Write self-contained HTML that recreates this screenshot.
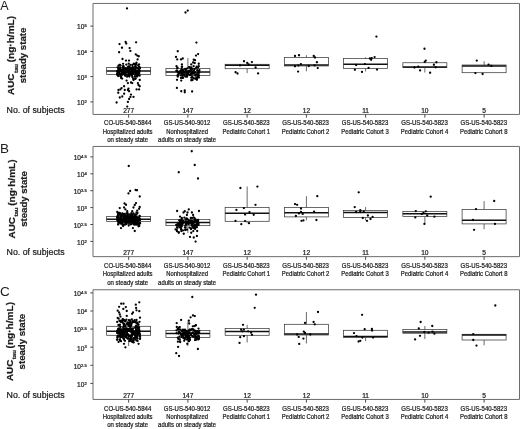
<!DOCTYPE html>
<html lang="en"><head><meta charset="utf-8"><title>Figure: AUCtau at steady state by cohort</title>
<style>html,body{margin:0;padding:0;background:#fff}body{width:520px;height:429px;overflow:hidden}svg{display:block;font-family:"Liberation Sans",sans-serif}.t{fill:#1c1c1c;stroke:#1c1c1c;stroke-width:.22}.ax{stroke:#6c6c6c;fill:none}.bx{stroke:#333;fill:none;stroke-width:.72}.md{stroke:#111;stroke-width:1.45;fill:none}.wh{stroke:#444;stroke-width:.8;fill:none}.p{fill:#000}</style></head><body>
<svg width="520" height="429" viewBox="0 0 520 429">
<rect width="520" height="429" fill="#fff"/>
<g>
<text fill="#1c1c1c" x="0.35" y="9.6" font-size="13.5" textLength="8.4" lengthAdjust="spacingAndGlyphs">A</text>
<text class="t" font-weight="bold" font-size="9.9" transform="translate(14.3 95) rotate(-90)">AUC<tspan font-size="6.1" dx="0.5" dy="3.4">tau</tspan></text>
<text class="t" font-weight="bold" font-size="9.9" transform="translate(14.3 62.3) rotate(-90)" textLength="46.4" lengthAdjust="spacingAndGlyphs">(ng·h/mL)</text>
<text class="t" font-weight="bold" font-size="9.9" text-anchor="middle" transform="translate(26.4 55.5) rotate(-90)" textLength="55.6" lengthAdjust="spacingAndGlyphs">steady state</text>
<text class="t" x="6.6" y="113" font-size="8.4" textLength="58" lengthAdjust="spacingAndGlyphs">No. of subjects</text>
<rect class="bx" x="106.65" y="67.55" width="44" height="6.95"/>
<path class="md" d="M106.65 70.95H150.65"/>
<rect class="bx" x="165.9" y="68.45" width="44" height="7"/>
<path class="md" d="M165.9 71.9H209.9"/>
<path class="wh" d="M187.9 58V68.45"/>
<rect class="bx" x="225.15" y="64.3" width="44" height="4.4"/>
<path class="md" d="M225.15 65.3H269.15"/>
<path class="wh" d="M247.15 68.7V73.1"/>
<rect class="bx" x="284.4" y="57.45" width="44" height="8.5"/>
<path class="md" d="M284.4 65.05H328.4"/>
<path class="wh" d="M306.4 55.2V57.45M306.4 65.95V71.3"/>
<rect class="bx" x="343.6" y="58.5" width="44" height="9.85"/>
<path class="md" d="M343.6 64.2H387.6"/>
<path class="wh" d="M365.6 57.2V58.5M365.6 68.35V71.5"/>
<rect class="bx" x="402.85" y="62.75" width="44" height="4.85"/>
<path class="md" d="M402.85 66.9H446.85"/>
<path class="wh" d="M424.85 61.2V62.75M424.85 67.6V72.5"/>
<rect class="bx" x="462.1" y="65" width="44" height="7.7"/>
<path class="md" d="M462.1 66H506.1"/>
<path class="wh" d="M484.1 61.2V65"/>
<g class="p">
<circle cx="127" cy="8.4" r="1.15"/>
<circle cx="119.5" cy="44.1" r="1.15"/>
<circle cx="125.6" cy="41.9" r="1.15"/>
<circle cx="126.25" cy="43.5" r="1.15"/>
<circle cx="136.1" cy="42.3" r="1.15"/>
<circle cx="122" cy="47.75" r="1.15"/>
<circle cx="129.6" cy="48.1" r="1.15"/>
<circle cx="130.4" cy="50.9" r="1.15"/>
<circle cx="119.1" cy="52.25" r="1.15"/>
<circle cx="135.75" cy="54.4" r="1.15"/>
<circle cx="137.25" cy="55.6" r="1.15"/>
<circle cx="138.75" cy="56.25" r="1.15"/>
<circle cx="137.6" cy="59.4" r="1.15"/>
<circle cx="122.5" cy="59" r="1.15"/>
<circle cx="126" cy="60.6" r="1.15"/>
<circle cx="129" cy="60.6" r="1.15"/>
<circle cx="126.6" cy="80.6" r="1.15"/>
<circle cx="127.9" cy="83.1" r="1.15"/>
<circle cx="131" cy="82.5" r="1.15"/>
<circle cx="132.25" cy="83.1" r="1.15"/>
<circle cx="133.5" cy="80" r="1.15"/>
<circle cx="139.75" cy="80" r="1.15"/>
<circle cx="137.9" cy="83.1" r="1.15"/>
<circle cx="138.5" cy="85" r="1.15"/>
<circle cx="139.75" cy="86.25" r="1.15"/>
<circle cx="124.1" cy="86.25" r="1.15"/>
<circle cx="121.6" cy="88.1" r="1.15"/>
<circle cx="128.5" cy="88.75" r="1.15"/>
<circle cx="120.4" cy="89.4" r="1.15"/>
<circle cx="118.5" cy="90" r="1.15"/>
<circle cx="124.75" cy="90" r="1.15"/>
<circle cx="127.9" cy="90" r="1.15"/>
<circle cx="129.1" cy="91.25" r="1.15"/>
<circle cx="136.6" cy="89.4" r="1.15"/>
<circle cx="139.1" cy="89.4" r="1.15"/>
<circle cx="118.25" cy="92.75" r="1.15"/>
<circle cx="124.1" cy="93.75" r="1.15"/>
<circle cx="131" cy="94.6" r="1.15"/>
<circle cx="122.25" cy="96.5" r="1.15"/>
<circle cx="119.75" cy="97.5" r="1.15"/>
<circle cx="130.4" cy="96.9" r="1.15"/>
<circle cx="133.5" cy="96.9" r="1.15"/>
<circle cx="129.1" cy="99" r="1.15"/>
<circle cx="116.6" cy="102.5" r="1.15"/>
<circle cx="127.9" cy="101.9" r="1.15"/>
<circle cx="127.25" cy="106.6" r="1.15"/>
<circle cx="132.1" cy="70.2" r="1.15"/>
<circle cx="118.8" cy="73.1" r="1.15"/>
<circle cx="118.5" cy="67.7" r="1.15"/>
<circle cx="128.8" cy="70.4" r="1.15"/>
<circle cx="118.8" cy="75.1" r="1.15"/>
<circle cx="119.2" cy="72.1" r="1.15"/>
<circle cx="120" cy="64.9" r="1.15"/>
<circle cx="122.3" cy="74.4" r="1.15"/>
<circle cx="130.4" cy="64.8" r="1.15"/>
<circle cx="126.3" cy="64.6" r="1.15"/>
<circle cx="136.9" cy="72.4" r="1.15"/>
<circle cx="123.8" cy="71" r="1.15"/>
<circle cx="124.2" cy="72.4" r="1.15"/>
<circle cx="135.9" cy="72.7" r="1.15"/>
<circle cx="131.8" cy="73.3" r="1.15"/>
<circle cx="125.7" cy="75.7" r="1.15"/>
<circle cx="118.5" cy="69.9" r="1.15"/>
<circle cx="121.9" cy="70.8" r="1.15"/>
<circle cx="124.4" cy="69.5" r="1.15"/>
<circle cx="130.6" cy="67.6" r="1.15"/>
<circle cx="135.4" cy="68.1" r="1.15"/>
<circle cx="133.2" cy="72.1" r="1.15"/>
<circle cx="129.2" cy="71.4" r="1.15"/>
<circle cx="137.3" cy="76.2" r="1.15"/>
<circle cx="139.7" cy="70.8" r="1.15"/>
<circle cx="119.9" cy="68.1" r="1.15"/>
<circle cx="120.6" cy="65.6" r="1.15"/>
<circle cx="128.4" cy="74.3" r="1.15"/>
<circle cx="134.7" cy="76.7" r="1.15"/>
<circle cx="130.3" cy="72.6" r="1.15"/>
<circle cx="133.1" cy="73.5" r="1.15"/>
<circle cx="130.8" cy="68.9" r="1.15"/>
<circle cx="136.5" cy="67.5" r="1.15"/>
<circle cx="138.9" cy="69.2" r="1.15"/>
<circle cx="118.5" cy="65.7" r="1.15"/>
<circle cx="133.3" cy="72.1" r="1.15"/>
<circle cx="136.1" cy="64" r="1.15"/>
<circle cx="132.5" cy="70.4" r="1.15"/>
<circle cx="117.7" cy="74.9" r="1.15"/>
<circle cx="119.8" cy="69" r="1.15"/>
<circle cx="118.5" cy="71.7" r="1.15"/>
<circle cx="122.8" cy="71.4" r="1.15"/>
<circle cx="126.1" cy="69.2" r="1.15"/>
<circle cx="127.5" cy="72.3" r="1.15"/>
<circle cx="129.8" cy="70.1" r="1.15"/>
<circle cx="137" cy="76.4" r="1.15"/>
<circle cx="123.6" cy="66.5" r="1.15"/>
<circle cx="137.5" cy="68.1" r="1.15"/>
<circle cx="139.2" cy="73" r="1.15"/>
<circle cx="122.5" cy="72.6" r="1.15"/>
<circle cx="122.5" cy="73.1" r="1.15"/>
<circle cx="123.2" cy="66.2" r="1.15"/>
<circle cx="117.2" cy="71.7" r="1.15"/>
<circle cx="130.2" cy="68" r="1.15"/>
<circle cx="139.1" cy="73" r="1.15"/>
<circle cx="131.4" cy="69.5" r="1.15"/>
<circle cx="132.7" cy="66.9" r="1.15"/>
<circle cx="135.1" cy="78.9" r="1.15"/>
<circle cx="137.3" cy="73.9" r="1.15"/>
<circle cx="126.3" cy="72.3" r="1.15"/>
<circle cx="119.5" cy="67.6" r="1.15"/>
<circle cx="118.7" cy="70.3" r="1.15"/>
<circle cx="122" cy="70.2" r="1.15"/>
<circle cx="118.4" cy="73" r="1.15"/>
<circle cx="117.2" cy="74.2" r="1.15"/>
<circle cx="125.5" cy="72.2" r="1.15"/>
<circle cx="117.7" cy="72.6" r="1.15"/>
<circle cx="120.6" cy="74.9" r="1.15"/>
<circle cx="123" cy="67.5" r="1.15"/>
<circle cx="120" cy="69.1" r="1.15"/>
<circle cx="136.7" cy="74.2" r="1.15"/>
<circle cx="128.3" cy="75.5" r="1.15"/>
<circle cx="119.1" cy="71" r="1.15"/>
<circle cx="123.2" cy="74" r="1.15"/>
<circle cx="136.2" cy="73.3" r="1.15"/>
<circle cx="139" cy="71.6" r="1.15"/>
<circle cx="129.3" cy="71.9" r="1.15"/>
<circle cx="117.8" cy="74.1" r="1.15"/>
<circle cx="129.3" cy="75" r="1.15"/>
<circle cx="133.2" cy="78.7" r="1.15"/>
<circle cx="123.2" cy="70.2" r="1.15"/>
<circle cx="134.9" cy="69.7" r="1.15"/>
<circle cx="129.4" cy="72.9" r="1.15"/>
<circle cx="122.3" cy="71.8" r="1.15"/>
<circle cx="135.8" cy="67.9" r="1.15"/>
<circle cx="135.7" cy="78.6" r="1.15"/>
<circle cx="136" cy="70.5" r="1.15"/>
<circle cx="129.1" cy="71" r="1.15"/>
<circle cx="125.3" cy="68.5" r="1.15"/>
<circle cx="123.6" cy="72.1" r="1.15"/>
<circle cx="123.1" cy="71.4" r="1.15"/>
<circle cx="127.4" cy="67.8" r="1.15"/>
<circle cx="139.1" cy="66.8" r="1.15"/>
<circle cx="122.4" cy="69.4" r="1.15"/>
<circle cx="121.7" cy="73.2" r="1.15"/>
<circle cx="137.9" cy="72.7" r="1.15"/>
<circle cx="136.5" cy="76.3" r="1.15"/>
<circle cx="135.5" cy="65.7" r="1.15"/>
<circle cx="119.1" cy="71.9" r="1.15"/>
<circle cx="135.1" cy="66.8" r="1.15"/>
<circle cx="134.4" cy="64.1" r="1.15"/>
<circle cx="135.3" cy="68.8" r="1.15"/>
<circle cx="124.8" cy="71.5" r="1.15"/>
<circle cx="126.3" cy="74.4" r="1.15"/>
<circle cx="133.8" cy="63.7" r="1.15"/>
<circle cx="121.1" cy="76.5" r="1.15"/>
<circle cx="138" cy="72.7" r="1.15"/>
<circle cx="135.7" cy="72.8" r="1.15"/>
<circle cx="139.7" cy="75.5" r="1.15"/>
<circle cx="132.3" cy="76.9" r="1.15"/>
<circle cx="120.2" cy="68.4" r="1.15"/>
<circle cx="117.5" cy="75.1" r="1.15"/>
<circle cx="129.3" cy="76.6" r="1.15"/>
<circle cx="138.6" cy="70.2" r="1.15"/>
<circle cx="136.2" cy="64.2" r="1.15"/>
<circle cx="122" cy="74.3" r="1.15"/>
<circle cx="122.7" cy="71.2" r="1.15"/>
<circle cx="130.6" cy="74.4" r="1.15"/>
<circle cx="120.2" cy="71" r="1.15"/>
<circle cx="138.1" cy="75.2" r="1.15"/>
<circle cx="130.6" cy="68.6" r="1.15"/>
<circle cx="137.9" cy="74.5" r="1.15"/>
<circle cx="128.7" cy="63.7" r="1.15"/>
<circle cx="129.4" cy="75.3" r="1.15"/>
<circle cx="127.3" cy="70.5" r="1.15"/>
<circle cx="121.4" cy="71.1" r="1.15"/>
<circle cx="121.1" cy="78" r="1.15"/>
<circle cx="128" cy="71.4" r="1.15"/>
<circle cx="124.6" cy="70.4" r="1.15"/>
<circle cx="129.1" cy="66.4" r="1.15"/>
<circle cx="119.6" cy="64.9" r="1.15"/>
<circle cx="130" cy="68.9" r="1.15"/>
<circle cx="134.9" cy="71.2" r="1.15"/>
<circle cx="128.8" cy="74.3" r="1.15"/>
<circle cx="138.1" cy="65.3" r="1.15"/>
<circle cx="127.3" cy="68.8" r="1.15"/>
<circle cx="128.9" cy="67.8" r="1.15"/>
<circle cx="133.1" cy="68.3" r="1.15"/>
<circle cx="128.1" cy="66.7" r="1.15"/>
<circle cx="138.8" cy="72.6" r="1.15"/>
<circle cx="138.8" cy="68.8" r="1.15"/>
<circle cx="123.1" cy="63.8" r="1.15"/>
<circle cx="136.5" cy="62.7" r="1.15"/>
<circle cx="120.3" cy="67.9" r="1.15"/>
<circle cx="118.8" cy="74.2" r="1.15"/>
<circle cx="122.7" cy="74" r="1.15"/>
<circle cx="135.2" cy="76.3" r="1.15"/>
<circle cx="137.8" cy="73.7" r="1.15"/>
<circle cx="132.3" cy="74.6" r="1.15"/>
<circle cx="120.4" cy="76.2" r="1.15"/>
<circle cx="122.2" cy="78.6" r="1.15"/>
<circle cx="139.1" cy="64.5" r="1.15"/>
<circle cx="139.9" cy="67.7" r="1.15"/>
<circle cx="136.3" cy="73.8" r="1.15"/>
<circle cx="129" cy="73.3" r="1.15"/>
<circle cx="124.9" cy="74.6" r="1.15"/>
<circle cx="133.8" cy="72.3" r="1.15"/>
<circle cx="117.6" cy="74.3" r="1.15"/>
<circle cx="117.6" cy="67.3" r="1.15"/>
<circle cx="124.8" cy="69.8" r="1.15"/>
<circle cx="118.6" cy="68" r="1.15"/>
<circle cx="139.8" cy="68" r="1.15"/>
<circle cx="119.6" cy="73.6" r="1.15"/>
<circle cx="135.1" cy="71.1" r="1.15"/>
<circle cx="123.4" cy="72.3" r="1.15"/>
<circle cx="138.1" cy="73.9" r="1.15"/>
<circle cx="136" cy="74.1" r="1.15"/>
<circle cx="138.3" cy="71.1" r="1.15"/>
<circle cx="130.3" cy="73.4" r="1.15"/>
<circle cx="118.5" cy="70.7" r="1.15"/>
<circle cx="133" cy="69.6" r="1.15"/>
<circle cx="138.7" cy="69.9" r="1.15"/>
<circle cx="131.7" cy="71.9" r="1.15"/>
<circle cx="136.8" cy="71.7" r="1.15"/>
<circle cx="118.7" cy="69.7" r="1.15"/>
<circle cx="125" cy="73.9" r="1.15"/>
<circle cx="129.9" cy="68" r="1.15"/>
<circle cx="120.1" cy="73.9" r="1.15"/>
<circle cx="129.3" cy="69.9" r="1.15"/>
<circle cx="120.9" cy="71.3" r="1.15"/>
<circle cx="118.3" cy="73" r="1.15"/>
<circle cx="124.2" cy="72.2" r="1.15"/>
<circle cx="134.6" cy="74.3" r="1.15"/>
<circle cx="121.2" cy="70.1" r="1.15"/>
<circle cx="125.1" cy="75.5" r="1.15"/>
<circle cx="117.5" cy="74.1" r="1.15"/>
<circle cx="134" cy="71.5" r="1.15"/>
<circle cx="128.1" cy="68.9" r="1.15"/>
<circle cx="138.6" cy="70.4" r="1.15"/>
<circle cx="127.1" cy="76.7" r="1.15"/>
<circle cx="128.5" cy="75.6" r="1.15"/>
<circle cx="128.8" cy="73.1" r="1.15"/>
<circle cx="133" cy="67.9" r="1.15"/>
<circle cx="136.3" cy="74.7" r="1.15"/>
<circle cx="133.4" cy="70.8" r="1.15"/>
<circle cx="125.1" cy="68.7" r="1.15"/>
<circle cx="118.4" cy="68.3" r="1.15"/>
<circle cx="134.2" cy="72.2" r="1.15"/>
<circle cx="123" cy="72.3" r="1.15"/>
<circle cx="136.5" cy="72" r="1.15"/>
<circle cx="137.2" cy="72.6" r="1.15"/>
<circle cx="122.7" cy="69.7" r="1.15"/>
<circle cx="123.9" cy="68.5" r="1.15"/>
<circle cx="127.4" cy="69" r="1.15"/>
<circle cx="123.2" cy="71.8" r="1.15"/>
<circle cx="129.7" cy="68.8" r="1.15"/>
<circle cx="124.3" cy="71.5" r="1.15"/>
<circle cx="125.9" cy="71.1" r="1.15"/>
<circle cx="128.1" cy="71.3" r="1.15"/>
<circle cx="128.8" cy="68.7" r="1.15"/>
<circle cx="117.3" cy="71.2" r="1.15"/>
<circle cx="126.3" cy="71.1" r="1.15"/>
<circle cx="118.1" cy="72.8" r="1.15"/>
<circle cx="122.5" cy="74.4" r="1.15"/>
<circle cx="130.6" cy="71.7" r="1.15"/>
<circle cx="132.3" cy="65" r="1.15"/>
<circle cx="133.6" cy="70" r="1.15"/>
<circle cx="124.7" cy="73.9" r="1.15"/>
<circle cx="139.8" cy="68.6" r="1.15"/>
<circle cx="131.9" cy="74.8" r="1.15"/>
<circle cx="118.2" cy="76.1" r="1.15"/>
<circle cx="131.6" cy="75.3" r="1.15"/>
<circle cx="134" cy="64.3" r="1.15"/>
<circle cx="129.2" cy="72" r="1.15"/>
<circle cx="128.8" cy="69.3" r="1.15"/>
<circle cx="187.75" cy="10.6" r="1.15"/>
<circle cx="185.5" cy="12.5" r="1.15"/>
<circle cx="196.4" cy="42.6" r="1.15"/>
<circle cx="177.75" cy="51.25" r="1.15"/>
<circle cx="198.1" cy="54.1" r="1.15"/>
<circle cx="196" cy="55.6" r="1.15"/>
<circle cx="176" cy="56.9" r="1.15"/>
<circle cx="177.25" cy="59.4" r="1.15"/>
<circle cx="181" cy="59.4" r="1.15"/>
<circle cx="182.75" cy="58.5" r="1.15"/>
<circle cx="193.75" cy="59.75" r="1.15"/>
<circle cx="195" cy="60.25" r="1.15"/>
<circle cx="193.1" cy="62.5" r="1.15"/>
<circle cx="194.75" cy="63.1" r="1.15"/>
<circle cx="198.75" cy="63.75" r="1.15"/>
<circle cx="191.25" cy="64.4" r="1.15"/>
<circle cx="181.9" cy="64.4" r="1.15"/>
<circle cx="176.5" cy="66.25" r="1.15"/>
<circle cx="198.75" cy="66.25" r="1.15"/>
<circle cx="181.25" cy="80.6" r="1.15"/>
<circle cx="191.25" cy="80.25" r="1.15"/>
<circle cx="192.5" cy="80" r="1.15"/>
<circle cx="196.9" cy="79.75" r="1.15"/>
<circle cx="176.9" cy="87.9" r="1.15"/>
<circle cx="181.25" cy="91.25" r="1.15"/>
<circle cx="184.75" cy="90.4" r="1.15"/>
<circle cx="184.75" cy="92.25" r="1.15"/>
<circle cx="192.1" cy="91.5" r="1.15"/>
<circle cx="195.4" cy="75.7" r="1.15"/>
<circle cx="189.8" cy="67.3" r="1.15"/>
<circle cx="192.3" cy="76.6" r="1.15"/>
<circle cx="181.7" cy="69.4" r="1.15"/>
<circle cx="184.7" cy="74.4" r="1.15"/>
<circle cx="178.8" cy="73" r="1.15"/>
<circle cx="190.8" cy="74.8" r="1.15"/>
<circle cx="190.8" cy="68.9" r="1.15"/>
<circle cx="176.5" cy="70.9" r="1.15"/>
<circle cx="194.7" cy="69" r="1.15"/>
<circle cx="188.7" cy="72.6" r="1.15"/>
<circle cx="191.6" cy="68.6" r="1.15"/>
<circle cx="182.2" cy="77.7" r="1.15"/>
<circle cx="178.1" cy="74.8" r="1.15"/>
<circle cx="181.1" cy="72.1" r="1.15"/>
<circle cx="193.4" cy="78.1" r="1.15"/>
<circle cx="185.2" cy="76.5" r="1.15"/>
<circle cx="187.4" cy="72" r="1.15"/>
<circle cx="190.6" cy="70.3" r="1.15"/>
<circle cx="191.2" cy="67.3" r="1.15"/>
<circle cx="182.2" cy="74.3" r="1.15"/>
<circle cx="193.5" cy="73.5" r="1.15"/>
<circle cx="176.7" cy="71.1" r="1.15"/>
<circle cx="177.8" cy="76.7" r="1.15"/>
<circle cx="192.3" cy="72" r="1.15"/>
<circle cx="191.9" cy="77.6" r="1.15"/>
<circle cx="187.1" cy="71.6" r="1.15"/>
<circle cx="187.1" cy="76.6" r="1.15"/>
<circle cx="181" cy="77.9" r="1.15"/>
<circle cx="198.9" cy="77.5" r="1.15"/>
<circle cx="187" cy="73.2" r="1.15"/>
<circle cx="195.3" cy="72.4" r="1.15"/>
<circle cx="182.6" cy="76.2" r="1.15"/>
<circle cx="181.2" cy="71.9" r="1.15"/>
<circle cx="189.8" cy="74.8" r="1.15"/>
<circle cx="179.7" cy="71.8" r="1.15"/>
<circle cx="179.4" cy="71.3" r="1.15"/>
<circle cx="196.8" cy="74.3" r="1.15"/>
<circle cx="192.6" cy="68.9" r="1.15"/>
<circle cx="187.6" cy="73.4" r="1.15"/>
<circle cx="177" cy="79.8" r="1.15"/>
<circle cx="186.8" cy="76.6" r="1.15"/>
<circle cx="183.3" cy="72.7" r="1.15"/>
<circle cx="183.7" cy="74.6" r="1.15"/>
<circle cx="195.7" cy="75" r="1.15"/>
<circle cx="195.7" cy="78.3" r="1.15"/>
<circle cx="179.2" cy="72.7" r="1.15"/>
<circle cx="197.1" cy="77.4" r="1.15"/>
<circle cx="183.1" cy="70.2" r="1.15"/>
<circle cx="199.4" cy="70.2" r="1.15"/>
<circle cx="190" cy="75" r="1.15"/>
<circle cx="182.7" cy="70.3" r="1.15"/>
<circle cx="177.5" cy="75.4" r="1.15"/>
<circle cx="183" cy="77.8" r="1.15"/>
<circle cx="197.9" cy="76.4" r="1.15"/>
<circle cx="188.2" cy="72.6" r="1.15"/>
<circle cx="180.8" cy="75.3" r="1.15"/>
<circle cx="196.7" cy="66.7" r="1.15"/>
<circle cx="195.1" cy="78.7" r="1.15"/>
<circle cx="198" cy="67.5" r="1.15"/>
<circle cx="189" cy="67.1" r="1.15"/>
<circle cx="193.2" cy="72.4" r="1.15"/>
<circle cx="186.8" cy="71.5" r="1.15"/>
<circle cx="183" cy="72.7" r="1.15"/>
<circle cx="177.5" cy="67.7" r="1.15"/>
<circle cx="187.3" cy="74.2" r="1.15"/>
<circle cx="184.3" cy="71.8" r="1.15"/>
<circle cx="198.9" cy="71" r="1.15"/>
<circle cx="182.4" cy="77.9" r="1.15"/>
<circle cx="189.2" cy="71" r="1.15"/>
<circle cx="185.5" cy="70.2" r="1.15"/>
<circle cx="181.2" cy="73.6" r="1.15"/>
<circle cx="197.2" cy="74.4" r="1.15"/>
<circle cx="197.2" cy="70.2" r="1.15"/>
<circle cx="199.3" cy="72.6" r="1.15"/>
<circle cx="180.8" cy="70.8" r="1.15"/>
<circle cx="178.5" cy="73.2" r="1.15"/>
<circle cx="181.9" cy="71.8" r="1.15"/>
<circle cx="182.3" cy="73.8" r="1.15"/>
<circle cx="193.6" cy="66.2" r="1.15"/>
<circle cx="185.9" cy="69.6" r="1.15"/>
<circle cx="185.1" cy="69" r="1.15"/>
<circle cx="184.2" cy="74.7" r="1.15"/>
<circle cx="198.7" cy="75.1" r="1.15"/>
<circle cx="179.3" cy="73.6" r="1.15"/>
<circle cx="196.2" cy="67.8" r="1.15"/>
<circle cx="181.4" cy="72.5" r="1.15"/>
<circle cx="185.6" cy="72.3" r="1.15"/>
<circle cx="186.7" cy="75.1" r="1.15"/>
<circle cx="196.5" cy="78.9" r="1.15"/>
<circle cx="176.9" cy="70.7" r="1.15"/>
<circle cx="197" cy="77.8" r="1.15"/>
<circle cx="187.3" cy="73.7" r="1.15"/>
<circle cx="185.4" cy="72.5" r="1.15"/>
<circle cx="197.7" cy="72.6" r="1.15"/>
<circle cx="198.8" cy="75.7" r="1.15"/>
<circle cx="182.1" cy="66.7" r="1.15"/>
<circle cx="188.4" cy="74.1" r="1.15"/>
<circle cx="192.1" cy="73.8" r="1.15"/>
<circle cx="191.3" cy="77.7" r="1.15"/>
<circle cx="194" cy="70.6" r="1.15"/>
<circle cx="177.3" cy="68.4" r="1.15"/>
<circle cx="194.4" cy="73.7" r="1.15"/>
<circle cx="191.2" cy="73.4" r="1.15"/>
<circle cx="182.2" cy="72" r="1.15"/>
<circle cx="191" cy="74.3" r="1.15"/>
<circle cx="178" cy="72.1" r="1.15"/>
<circle cx="188.5" cy="71" r="1.15"/>
<circle cx="181.5" cy="69.7" r="1.15"/>
<circle cx="190.2" cy="70.9" r="1.15"/>
<circle cx="187" cy="75.5" r="1.15"/>
<circle cx="198.5" cy="72.8" r="1.15"/>
<circle cx="187.3" cy="68.3" r="1.15"/>
<circle cx="181.8" cy="67" r="1.15"/>
<circle cx="192.6" cy="72.8" r="1.15"/>
<circle cx="187.9" cy="72.3" r="1.15"/>
<circle cx="191.9" cy="73.3" r="1.15"/>
<circle cx="191.7" cy="70.3" r="1.15"/>
<circle cx="244" cy="61.25" r="1.15"/>
<circle cx="247.25" cy="62.9" r="1.15"/>
<circle cx="251.9" cy="62.1" r="1.15"/>
<circle cx="240" cy="65.4" r="1.15"/>
<circle cx="248.75" cy="64.4" r="1.15"/>
<circle cx="255.6" cy="67.5" r="1.15"/>
<circle cx="235.6" cy="72.25" r="1.15"/>
<circle cx="237.5" cy="73.5" r="1.15"/>
<circle cx="258.1" cy="73.4" r="1.15"/>
<circle cx="295" cy="56" r="1.15"/>
<circle cx="299" cy="55.25" r="1.15"/>
<circle cx="313.75" cy="56" r="1.15"/>
<circle cx="315" cy="57.5" r="1.15"/>
<circle cx="316.9" cy="62.25" r="1.15"/>
<circle cx="295" cy="66.25" r="1.15"/>
<circle cx="298.4" cy="65.6" r="1.15"/>
<circle cx="300.9" cy="64.1" r="1.15"/>
<circle cx="308.75" cy="66" r="1.15"/>
<circle cx="314.6" cy="65.4" r="1.15"/>
<circle cx="317.75" cy="68.1" r="1.15"/>
<circle cx="298.1" cy="71.6" r="1.15"/>
<circle cx="376.4" cy="36.6" r="1.15"/>
<circle cx="374.6" cy="57.1" r="1.15"/>
<circle cx="371.75" cy="58.1" r="1.15"/>
<circle cx="369.9" cy="58.5" r="1.15"/>
<circle cx="371.1" cy="59.75" r="1.15"/>
<circle cx="356.1" cy="65" r="1.15"/>
<circle cx="364.9" cy="64.1" r="1.15"/>
<circle cx="368.6" cy="67.9" r="1.15"/>
<circle cx="354.9" cy="69.75" r="1.15"/>
<circle cx="377" cy="69.6" r="1.15"/>
<circle cx="362" cy="71.9" r="1.15"/>
<circle cx="424.5" cy="48.75" r="1.15"/>
<circle cx="425.75" cy="60.6" r="1.15"/>
<circle cx="424.75" cy="61.9" r="1.15"/>
<circle cx="436.4" cy="62.25" r="1.15"/>
<circle cx="433.9" cy="64.75" r="1.15"/>
<circle cx="435.75" cy="67.25" r="1.15"/>
<circle cx="418.25" cy="66.6" r="1.15"/>
<circle cx="414.5" cy="67.5" r="1.15"/>
<circle cx="420.1" cy="70.4" r="1.15"/>
<circle cx="430.1" cy="72.75" r="1.15"/>
<circle cx="476.75" cy="60.6" r="1.15"/>
<circle cx="488.6" cy="64.6" r="1.15"/>
<circle cx="491.4" cy="65.9" r="1.15"/>
<circle cx="475.4" cy="73.1" r="1.15"/>
<circle cx="482.6" cy="74" r="1.15"/>
</g>
<path class="ax" stroke-width="1" d="M93 3.45H519.5V114.45H93Z"/>
<path stroke="#383838" fill="none" stroke-width=".9" d="M90.3 26.1H93M90.3 51.4H93M90.3 76.6H93M90.3 101.9H93M128.65 114.45V117.65M187.9 114.45V117.65M247.15 114.45V117.65M306.4 114.45V117.65M365.6 114.45V117.65M424.85 114.45V117.65M484.1 114.45V117.65"/>
<text class="t" x="86.8" y="29.4" font-size="6.6" text-anchor="end">10<tspan font-size="4.2" dy="-2.1">5</tspan></text>
<text class="t" x="86.8" y="54.7" font-size="6.6" text-anchor="end">10<tspan font-size="4.2" dy="-2.1">4</tspan></text>
<text class="t" x="86.8" y="79.9" font-size="6.6" text-anchor="end">10<tspan font-size="4.2" dy="-2.1">3</tspan></text>
<text class="t" x="86.8" y="105.2" font-size="6.6" text-anchor="end">10<tspan font-size="4.2" dy="-2.1">2</tspan></text>
<text class="t" x="128.65" y="112.6" font-size="6.6" text-anchor="middle">277</text>
<text class="t" x="187.9" y="112.6" font-size="6.6" text-anchor="middle">147</text>
<text class="t" x="247.15" y="112.6" font-size="6.6" text-anchor="middle">12</text>
<text class="t" x="306.4" y="112.6" font-size="6.6" text-anchor="middle">12</text>
<text class="t" x="365.6" y="112.6" font-size="6.6" text-anchor="middle">11</text>
<text class="t" x="424.85" y="112.6" font-size="6.6" text-anchor="middle">10</text>
<text class="t" x="484.1" y="112.6" font-size="6.6" text-anchor="middle">5</text>
<text class="t" x="127.65" y="125.2" font-size="6.4" text-anchor="middle" textLength="47.3" lengthAdjust="spacingAndGlyphs">CO-US-540-5844</text>
<text class="t" x="127.65" y="133.5" font-size="6.4" text-anchor="middle" textLength="49.9" lengthAdjust="spacingAndGlyphs">Hospitalized adults</text>
<text class="t" x="127.65" y="141.8" font-size="6.4" text-anchor="middle" textLength="41" lengthAdjust="spacingAndGlyphs">on steady state</text>
<text class="t" x="187.1" y="125.2" font-size="6.4" text-anchor="middle" textLength="46.5" lengthAdjust="spacingAndGlyphs">GS-US-540-9012</text>
<text class="t" x="187.1" y="133.5" font-size="6.4" text-anchor="middle" textLength="41.7" lengthAdjust="spacingAndGlyphs">Nonhospitalized</text>
<text class="t" x="187.1" y="141.8" font-size="6.4" text-anchor="middle" textLength="58" lengthAdjust="spacingAndGlyphs">adults on steady state</text>
<text class="t" x="246.3" y="125.2" font-size="6.4" text-anchor="middle" textLength="46.6" lengthAdjust="spacingAndGlyphs">GS-US-540-5823</text>
<text class="t" x="246.3" y="133.5" font-size="6.4" text-anchor="middle" textLength="47.4" lengthAdjust="spacingAndGlyphs">Pediatric Cohort 1</text>
<text class="t" x="305.55" y="125.2" font-size="6.4" text-anchor="middle" textLength="46.6" lengthAdjust="spacingAndGlyphs">GS-US-540-5823</text>
<text class="t" x="305.55" y="133.5" font-size="6.4" text-anchor="middle" textLength="47.4" lengthAdjust="spacingAndGlyphs">Pediatric Cohort 2</text>
<text class="t" x="365" y="125.2" font-size="6.4" text-anchor="middle" textLength="46.6" lengthAdjust="spacingAndGlyphs">GS-US-540-5823</text>
<text class="t" x="365" y="133.5" font-size="6.4" text-anchor="middle" textLength="47.4" lengthAdjust="spacingAndGlyphs">Pediatric Cohort 3</text>
<text class="t" x="424.5" y="125.2" font-size="6.4" text-anchor="middle" textLength="46.6" lengthAdjust="spacingAndGlyphs">GS-US-540-5823</text>
<text class="t" x="424.5" y="133.5" font-size="6.4" text-anchor="middle" textLength="47.4" lengthAdjust="spacingAndGlyphs">Pediatric Cohort 4</text>
<text class="t" x="483.75" y="125.2" font-size="6.4" text-anchor="middle" textLength="46.6" lengthAdjust="spacingAndGlyphs">GS-US-540-5823</text>
<text class="t" x="483.75" y="133.5" font-size="6.4" text-anchor="middle" textLength="47.4" lengthAdjust="spacingAndGlyphs">Pediatric Cohort 8</text>
</g>
<g>
<text fill="#1c1c1c" x="0" y="152.8" font-size="13.5">B</text>
<text class="t" font-weight="bold" font-size="9.9" transform="translate(14.6 238.5) rotate(-90)">AUC<tspan font-size="6.1" dx="0.5" dy="3.4">tau</tspan></text>
<text class="t" font-weight="bold" font-size="9.9" transform="translate(14.6 205.8) rotate(-90)" textLength="46.4" lengthAdjust="spacingAndGlyphs">(ng·h/mL)</text>
<text class="t" font-weight="bold" font-size="9.9" text-anchor="middle" transform="translate(27 199) rotate(-90)" textLength="55.6" lengthAdjust="spacingAndGlyphs">steady state</text>
<text class="t" x="6.6" y="255.4" font-size="8.4" textLength="58" lengthAdjust="spacingAndGlyphs">No. of subjects</text>
<rect class="bx" x="106.65" y="216.4" width="44" height="5.15"/>
<path class="md" d="M106.65 219.15H150.65"/>
<path class="wh" d="M128.65 221.55V226.9"/>
<rect class="bx" x="165.9" y="219.45" width="44" height="6.2"/>
<path class="md" d="M165.9 222.5H209.9"/>
<path class="wh" d="M187.9 225.65V233"/>
<rect class="bx" x="225.15" y="207.5" width="44" height="13.8"/>
<path class="md" d="M225.15 213.3H269.15"/>
<path class="wh" d="M247.15 186.5V207.5M247.15 221.3V223.2"/>
<rect class="bx" x="284.4" y="207.6" width="44" height="9.3"/>
<path class="md" d="M284.4 212.7H328.4"/>
<path class="wh" d="M306.4 196.2V207.6M306.4 216.9V220.4"/>
<rect class="bx" x="343.6" y="210.4" width="44" height="7.1"/>
<path class="md" d="M343.6 212.4H387.6"/>
<path class="wh" d="M365.6 207.1V210.4M365.6 217.5V220.4"/>
<rect class="bx" x="402.85" y="211.45" width="44" height="5.15"/>
<path class="md" d="M402.85 213.7H446.85"/>
<path class="wh" d="M424.85 216.6V223.9"/>
<rect class="bx" x="462.1" y="209.4" width="44" height="14.5"/>
<path class="md" d="M462.1 220.2H506.1"/>
<path class="wh" d="M484.1 201.1V209.4M484.1 223.9V229.2"/>
<g class="p">
<circle cx="128.75" cy="166" r="1.15"/>
<circle cx="130.1" cy="191" r="1.15"/>
<circle cx="128.5" cy="193.4" r="1.15"/>
<circle cx="135.6" cy="190" r="1.15"/>
<circle cx="137" cy="190.25" r="1.15"/>
<circle cx="139.75" cy="196.5" r="1.15"/>
<circle cx="124.5" cy="203.5" r="1.15"/>
<circle cx="126" cy="204.75" r="1.15"/>
<circle cx="136" cy="203.1" r="1.15"/>
<circle cx="134.75" cy="205" r="1.15"/>
<circle cx="133.5" cy="207.5" r="1.15"/>
<circle cx="139.75" cy="206.9" r="1.15"/>
<circle cx="139.1" cy="208.75" r="1.15"/>
<circle cx="119.75" cy="208.1" r="1.15"/>
<circle cx="124.1" cy="207.5" r="1.15"/>
<circle cx="125.4" cy="209.4" r="1.15"/>
<circle cx="127.25" cy="211.25" r="1.15"/>
<circle cx="137.25" cy="210.6" r="1.15"/>
<circle cx="132.25" cy="211.25" r="1.15"/>
<circle cx="117.25" cy="211.9" r="1.15"/>
<circle cx="121" cy="228.1" r="1.15"/>
<circle cx="132.9" cy="228.1" r="1.15"/>
<circle cx="134.75" cy="231" r="1.15"/>
<circle cx="138.5" cy="226.25" r="1.15"/>
<circle cx="138.4" cy="220.2" r="1.15"/>
<circle cx="124.9" cy="219" r="1.15"/>
<circle cx="126.8" cy="219.8" r="1.15"/>
<circle cx="135.5" cy="217.9" r="1.15"/>
<circle cx="134.1" cy="216.8" r="1.15"/>
<circle cx="139.5" cy="216.5" r="1.15"/>
<circle cx="124.3" cy="218.8" r="1.15"/>
<circle cx="122.2" cy="220" r="1.15"/>
<circle cx="134.6" cy="216.6" r="1.15"/>
<circle cx="128.6" cy="216.5" r="1.15"/>
<circle cx="126.7" cy="219.9" r="1.15"/>
<circle cx="132.5" cy="221.2" r="1.15"/>
<circle cx="126.2" cy="220.8" r="1.15"/>
<circle cx="122" cy="218.3" r="1.15"/>
<circle cx="118.3" cy="220.8" r="1.15"/>
<circle cx="118.5" cy="218.6" r="1.15"/>
<circle cx="137.5" cy="213" r="1.15"/>
<circle cx="134" cy="223.5" r="1.15"/>
<circle cx="124.7" cy="218.8" r="1.15"/>
<circle cx="134.3" cy="222.1" r="1.15"/>
<circle cx="125.9" cy="224" r="1.15"/>
<circle cx="125.7" cy="219.9" r="1.15"/>
<circle cx="117.2" cy="217.9" r="1.15"/>
<circle cx="123.6" cy="220.8" r="1.15"/>
<circle cx="120" cy="213.7" r="1.15"/>
<circle cx="139.3" cy="225.9" r="1.15"/>
<circle cx="136" cy="219.8" r="1.15"/>
<circle cx="136.1" cy="222.1" r="1.15"/>
<circle cx="128" cy="217.9" r="1.15"/>
<circle cx="125.7" cy="219.4" r="1.15"/>
<circle cx="125.5" cy="220.9" r="1.15"/>
<circle cx="137.8" cy="217.8" r="1.15"/>
<circle cx="135.8" cy="222.4" r="1.15"/>
<circle cx="134.8" cy="219.6" r="1.15"/>
<circle cx="118.6" cy="219.8" r="1.15"/>
<circle cx="138.3" cy="219.1" r="1.15"/>
<circle cx="137.8" cy="218.6" r="1.15"/>
<circle cx="124.9" cy="224.7" r="1.15"/>
<circle cx="131.3" cy="217.7" r="1.15"/>
<circle cx="124.4" cy="218.5" r="1.15"/>
<circle cx="123.5" cy="224.4" r="1.15"/>
<circle cx="138.2" cy="224.8" r="1.15"/>
<circle cx="131.7" cy="219" r="1.15"/>
<circle cx="122.5" cy="219.6" r="1.15"/>
<circle cx="128.1" cy="218.6" r="1.15"/>
<circle cx="126" cy="216.6" r="1.15"/>
<circle cx="128.5" cy="218.9" r="1.15"/>
<circle cx="138.5" cy="222.6" r="1.15"/>
<circle cx="134.1" cy="221.5" r="1.15"/>
<circle cx="136.1" cy="224.7" r="1.15"/>
<circle cx="124.7" cy="219.6" r="1.15"/>
<circle cx="124.5" cy="214.2" r="1.15"/>
<circle cx="119" cy="214.9" r="1.15"/>
<circle cx="121.7" cy="223.6" r="1.15"/>
<circle cx="118.6" cy="218.9" r="1.15"/>
<circle cx="117.9" cy="216.3" r="1.15"/>
<circle cx="139.7" cy="216" r="1.15"/>
<circle cx="137.5" cy="217.9" r="1.15"/>
<circle cx="119.1" cy="221.6" r="1.15"/>
<circle cx="119.4" cy="218.7" r="1.15"/>
<circle cx="127.4" cy="213.4" r="1.15"/>
<circle cx="122.5" cy="219" r="1.15"/>
<circle cx="132.7" cy="214.7" r="1.15"/>
<circle cx="134.4" cy="221.3" r="1.15"/>
<circle cx="119.9" cy="221.9" r="1.15"/>
<circle cx="136.5" cy="214.7" r="1.15"/>
<circle cx="125.7" cy="217.7" r="1.15"/>
<circle cx="134.1" cy="223.3" r="1.15"/>
<circle cx="122.8" cy="219.7" r="1.15"/>
<circle cx="120.7" cy="221.4" r="1.15"/>
<circle cx="124.7" cy="222.3" r="1.15"/>
<circle cx="126.3" cy="215.8" r="1.15"/>
<circle cx="122.5" cy="223.1" r="1.15"/>
<circle cx="135.7" cy="218.7" r="1.15"/>
<circle cx="119.5" cy="212.8" r="1.15"/>
<circle cx="136.5" cy="212.5" r="1.15"/>
<circle cx="138.2" cy="219.9" r="1.15"/>
<circle cx="119.9" cy="221.7" r="1.15"/>
<circle cx="121.5" cy="219.6" r="1.15"/>
<circle cx="138.5" cy="223.5" r="1.15"/>
<circle cx="125.7" cy="218.1" r="1.15"/>
<circle cx="123.1" cy="221.4" r="1.15"/>
<circle cx="135" cy="216.1" r="1.15"/>
<circle cx="130.9" cy="220.5" r="1.15"/>
<circle cx="131.4" cy="218.3" r="1.15"/>
<circle cx="120.4" cy="219.6" r="1.15"/>
<circle cx="121.8" cy="222.2" r="1.15"/>
<circle cx="132.1" cy="218.8" r="1.15"/>
<circle cx="121.8" cy="223.6" r="1.15"/>
<circle cx="132.8" cy="222" r="1.15"/>
<circle cx="121.4" cy="219.1" r="1.15"/>
<circle cx="135.4" cy="218" r="1.15"/>
<circle cx="129.8" cy="221.1" r="1.15"/>
<circle cx="126.2" cy="220.4" r="1.15"/>
<circle cx="129.8" cy="219.5" r="1.15"/>
<circle cx="120.9" cy="217.9" r="1.15"/>
<circle cx="133.1" cy="217.7" r="1.15"/>
<circle cx="124.2" cy="216.5" r="1.15"/>
<circle cx="139.1" cy="220.4" r="1.15"/>
<circle cx="125.4" cy="217.2" r="1.15"/>
<circle cx="126.7" cy="223.1" r="1.15"/>
<circle cx="133.9" cy="217.4" r="1.15"/>
<circle cx="121.8" cy="220.7" r="1.15"/>
<circle cx="126.9" cy="219.2" r="1.15"/>
<circle cx="137.5" cy="220.4" r="1.15"/>
<circle cx="127.8" cy="215.7" r="1.15"/>
<circle cx="129.8" cy="219.2" r="1.15"/>
<circle cx="131.9" cy="219.4" r="1.15"/>
<circle cx="131.5" cy="220.2" r="1.15"/>
<circle cx="125.7" cy="218.1" r="1.15"/>
<circle cx="123.7" cy="216.9" r="1.15"/>
<circle cx="129.1" cy="218.8" r="1.15"/>
<circle cx="128.4" cy="220.4" r="1.15"/>
<circle cx="135.7" cy="218.1" r="1.15"/>
<circle cx="120.1" cy="221.2" r="1.15"/>
<circle cx="138.8" cy="218.4" r="1.15"/>
<circle cx="118.4" cy="222.9" r="1.15"/>
<circle cx="138.5" cy="218.3" r="1.15"/>
<circle cx="131.4" cy="213.1" r="1.15"/>
<circle cx="136.1" cy="223.8" r="1.15"/>
<circle cx="122.3" cy="222.2" r="1.15"/>
<circle cx="126.5" cy="224.1" r="1.15"/>
<circle cx="121.4" cy="222.6" r="1.15"/>
<circle cx="122.2" cy="213.5" r="1.15"/>
<circle cx="126" cy="215.5" r="1.15"/>
<circle cx="120" cy="221.4" r="1.15"/>
<circle cx="137.8" cy="219" r="1.15"/>
<circle cx="118.1" cy="224.5" r="1.15"/>
<circle cx="118" cy="213.5" r="1.15"/>
<circle cx="136.4" cy="216.7" r="1.15"/>
<circle cx="129.8" cy="222.4" r="1.15"/>
<circle cx="131.6" cy="222.1" r="1.15"/>
<circle cx="130.6" cy="217.6" r="1.15"/>
<circle cx="126.9" cy="222.3" r="1.15"/>
<circle cx="127.2" cy="216.8" r="1.15"/>
<circle cx="117.7" cy="215.7" r="1.15"/>
<circle cx="122.6" cy="215.9" r="1.15"/>
<circle cx="134.7" cy="216.1" r="1.15"/>
<circle cx="121.3" cy="219.6" r="1.15"/>
<circle cx="128" cy="215.1" r="1.15"/>
<circle cx="127.1" cy="220.3" r="1.15"/>
<circle cx="119.3" cy="220" r="1.15"/>
<circle cx="118.1" cy="215" r="1.15"/>
<circle cx="131.8" cy="220.4" r="1.15"/>
<circle cx="135" cy="223.8" r="1.15"/>
<circle cx="128.9" cy="221.7" r="1.15"/>
<circle cx="125.8" cy="222.8" r="1.15"/>
<circle cx="139" cy="220.3" r="1.15"/>
<circle cx="140.1" cy="223.4" r="1.15"/>
<circle cx="134" cy="224.1" r="1.15"/>
<circle cx="139.7" cy="219.8" r="1.15"/>
<circle cx="128.5" cy="216.8" r="1.15"/>
<circle cx="120.9" cy="216.8" r="1.15"/>
<circle cx="118.7" cy="220.8" r="1.15"/>
<circle cx="120.8" cy="215.4" r="1.15"/>
<circle cx="137.8" cy="223.6" r="1.15"/>
<circle cx="120.5" cy="217.9" r="1.15"/>
<circle cx="128.7" cy="225.3" r="1.15"/>
<circle cx="123.2" cy="221" r="1.15"/>
<circle cx="128.8" cy="217.7" r="1.15"/>
<circle cx="121.3" cy="218.5" r="1.15"/>
<circle cx="120.9" cy="219.8" r="1.15"/>
<circle cx="137.7" cy="223.8" r="1.15"/>
<circle cx="121" cy="216.8" r="1.15"/>
<circle cx="129.4" cy="219.3" r="1.15"/>
<circle cx="131.8" cy="217.2" r="1.15"/>
<circle cx="129.9" cy="214.4" r="1.15"/>
<circle cx="130.5" cy="224.4" r="1.15"/>
<circle cx="140" cy="220.1" r="1.15"/>
<circle cx="131.6" cy="217.8" r="1.15"/>
<circle cx="123.2" cy="214" r="1.15"/>
<circle cx="139.9" cy="222.8" r="1.15"/>
<circle cx="134.7" cy="216" r="1.15"/>
<circle cx="127.3" cy="217.4" r="1.15"/>
<circle cx="118.3" cy="221.5" r="1.15"/>
<circle cx="136" cy="224.1" r="1.15"/>
<circle cx="139.8" cy="218.8" r="1.15"/>
<circle cx="130.6" cy="223.9" r="1.15"/>
<circle cx="117.2" cy="217.3" r="1.15"/>
<circle cx="117.9" cy="216.3" r="1.15"/>
<circle cx="127.1" cy="221.8" r="1.15"/>
<circle cx="128.9" cy="222.8" r="1.15"/>
<circle cx="122.4" cy="220.4" r="1.15"/>
<circle cx="132.2" cy="217.8" r="1.15"/>
<circle cx="125.3" cy="219.2" r="1.15"/>
<circle cx="119.6" cy="218.9" r="1.15"/>
<circle cx="130.6" cy="217.3" r="1.15"/>
<circle cx="130.7" cy="220.9" r="1.15"/>
<circle cx="128.1" cy="220.3" r="1.15"/>
<circle cx="120.2" cy="223.6" r="1.15"/>
<circle cx="120.6" cy="221.3" r="1.15"/>
<circle cx="119.4" cy="217.9" r="1.15"/>
<circle cx="135.1" cy="214.3" r="1.15"/>
<circle cx="126.4" cy="213.5" r="1.15"/>
<circle cx="132" cy="218.9" r="1.15"/>
<circle cx="130.1" cy="219.4" r="1.15"/>
<circle cx="127.4" cy="215.9" r="1.15"/>
<circle cx="138.7" cy="223" r="1.15"/>
<circle cx="137.9" cy="218.6" r="1.15"/>
<circle cx="118.2" cy="216.3" r="1.15"/>
<circle cx="122.6" cy="215.4" r="1.15"/>
<circle cx="118.5" cy="218.2" r="1.15"/>
<circle cx="129.8" cy="219" r="1.15"/>
<circle cx="138.8" cy="218.4" r="1.15"/>
<circle cx="131.1" cy="220.4" r="1.15"/>
<circle cx="128.8" cy="220.7" r="1.15"/>
<circle cx="121.2" cy="214.9" r="1.15"/>
<circle cx="124.3" cy="213.9" r="1.15"/>
<circle cx="137.6" cy="218.6" r="1.15"/>
<circle cx="135.2" cy="219.9" r="1.15"/>
<circle cx="136.6" cy="218.8" r="1.15"/>
<circle cx="134.3" cy="218.5" r="1.15"/>
<circle cx="127.6" cy="213.3" r="1.15"/>
<circle cx="122.3" cy="220.1" r="1.15"/>
<circle cx="118" cy="220.9" r="1.15"/>
<circle cx="124.9" cy="220.5" r="1.15"/>
<circle cx="136.6" cy="218.9" r="1.15"/>
<circle cx="133.5" cy="213.5" r="1.15"/>
<circle cx="127.2" cy="218.5" r="1.15"/>
<circle cx="135.3" cy="223.3" r="1.15"/>
<circle cx="131.9" cy="216.2" r="1.15"/>
<circle cx="139.3" cy="218.5" r="1.15"/>
<circle cx="117.5" cy="220.4" r="1.15"/>
<circle cx="123.1" cy="226" r="1.15"/>
<circle cx="138.9" cy="219.4" r="1.15"/>
<circle cx="134.3" cy="224.7" r="1.15"/>
<circle cx="124.7" cy="215.6" r="1.15"/>
<circle cx="122.7" cy="225.3" r="1.15"/>
<circle cx="133.1" cy="223" r="1.15"/>
<circle cx="132.5" cy="216.2" r="1.15"/>
<circle cx="136.5" cy="222.8" r="1.15"/>
<circle cx="133.2" cy="218.4" r="1.15"/>
<circle cx="133.8" cy="221.2" r="1.15"/>
<circle cx="130.3" cy="216" r="1.15"/>
<circle cx="131.5" cy="218" r="1.15"/>
<circle cx="118.9" cy="221.2" r="1.15"/>
<circle cx="117.8" cy="220.6" r="1.15"/>
<circle cx="119.6" cy="217.9" r="1.15"/>
<circle cx="120.4" cy="221.8" r="1.15"/>
<circle cx="117.8" cy="217.5" r="1.15"/>
<circle cx="131.7" cy="224.1" r="1.15"/>
<circle cx="133.2" cy="220.3" r="1.15"/>
<circle cx="130.7" cy="218.8" r="1.15"/>
<circle cx="125.5" cy="217.6" r="1.15"/>
<circle cx="137.6" cy="221.6" r="1.15"/>
<circle cx="118.7" cy="213" r="1.15"/>
<circle cx="138.9" cy="224.1" r="1.15"/>
<circle cx="119.6" cy="213.2" r="1.15"/>
<circle cx="117.9" cy="219.4" r="1.15"/>
<circle cx="136.6" cy="220.5" r="1.15"/>
<circle cx="136.1" cy="220.8" r="1.15"/>
<circle cx="131.7" cy="214.3" r="1.15"/>
<circle cx="119.4" cy="218.5" r="1.15"/>
<circle cx="134.6" cy="220.5" r="1.15"/>
<circle cx="126.9" cy="219.8" r="1.15"/>
<circle cx="191.75" cy="151.25" r="1.15"/>
<circle cx="194.75" cy="165" r="1.15"/>
<circle cx="178.75" cy="172.25" r="1.15"/>
<circle cx="198" cy="178.5" r="1.15"/>
<circle cx="177.1" cy="211" r="1.15"/>
<circle cx="199" cy="211" r="1.15"/>
<circle cx="188.75" cy="209.4" r="1.15"/>
<circle cx="184.75" cy="211.25" r="1.15"/>
<circle cx="183.5" cy="212.5" r="1.15"/>
<circle cx="187.5" cy="212.5" r="1.15"/>
<circle cx="191.9" cy="212.5" r="1.15"/>
<circle cx="186.9" cy="215" r="1.15"/>
<circle cx="193.1" cy="215" r="1.15"/>
<circle cx="175.6" cy="229.4" r="1.15"/>
<circle cx="178.75" cy="232.75" r="1.15"/>
<circle cx="183.75" cy="233.75" r="1.15"/>
<circle cx="191.25" cy="232.75" r="1.15"/>
<circle cx="190" cy="236.9" r="1.15"/>
<circle cx="193.75" cy="237.5" r="1.15"/>
<circle cx="196.9" cy="236" r="1.15"/>
<circle cx="195.6" cy="241.6" r="1.15"/>
<circle cx="176.9" cy="227.4" r="1.15"/>
<circle cx="192.9" cy="223.9" r="1.15"/>
<circle cx="184.9" cy="227.3" r="1.15"/>
<circle cx="188" cy="219.6" r="1.15"/>
<circle cx="177.1" cy="227.3" r="1.15"/>
<circle cx="185.9" cy="219.5" r="1.15"/>
<circle cx="184.4" cy="217.7" r="1.15"/>
<circle cx="192.6" cy="226.7" r="1.15"/>
<circle cx="196.2" cy="221.3" r="1.15"/>
<circle cx="178.5" cy="223.3" r="1.15"/>
<circle cx="176.4" cy="225" r="1.15"/>
<circle cx="181" cy="221.8" r="1.15"/>
<circle cx="176.5" cy="224.8" r="1.15"/>
<circle cx="194.7" cy="219.4" r="1.15"/>
<circle cx="180.6" cy="224.3" r="1.15"/>
<circle cx="195.5" cy="220.3" r="1.15"/>
<circle cx="182.4" cy="224.1" r="1.15"/>
<circle cx="181.3" cy="227.1" r="1.15"/>
<circle cx="192.5" cy="222.9" r="1.15"/>
<circle cx="191" cy="222.1" r="1.15"/>
<circle cx="178.3" cy="224" r="1.15"/>
<circle cx="194.5" cy="225.5" r="1.15"/>
<circle cx="190.8" cy="218" r="1.15"/>
<circle cx="185.5" cy="221.5" r="1.15"/>
<circle cx="196.9" cy="227.2" r="1.15"/>
<circle cx="177" cy="231.2" r="1.15"/>
<circle cx="181.1" cy="228.3" r="1.15"/>
<circle cx="187.9" cy="223.3" r="1.15"/>
<circle cx="181.8" cy="218" r="1.15"/>
<circle cx="187" cy="229.7" r="1.15"/>
<circle cx="193.7" cy="217.4" r="1.15"/>
<circle cx="191.3" cy="222.7" r="1.15"/>
<circle cx="180" cy="221.9" r="1.15"/>
<circle cx="195.8" cy="226.9" r="1.15"/>
<circle cx="180.3" cy="220.5" r="1.15"/>
<circle cx="186.5" cy="218.4" r="1.15"/>
<circle cx="179.3" cy="224.8" r="1.15"/>
<circle cx="187" cy="218.8" r="1.15"/>
<circle cx="180.8" cy="226.2" r="1.15"/>
<circle cx="183.3" cy="222.1" r="1.15"/>
<circle cx="180" cy="221.8" r="1.15"/>
<circle cx="180" cy="216.6" r="1.15"/>
<circle cx="188.4" cy="224.1" r="1.15"/>
<circle cx="180.1" cy="227.6" r="1.15"/>
<circle cx="198.8" cy="222.8" r="1.15"/>
<circle cx="193.2" cy="226.3" r="1.15"/>
<circle cx="178.7" cy="232.2" r="1.15"/>
<circle cx="185.2" cy="230.1" r="1.15"/>
<circle cx="193.3" cy="231.1" r="1.15"/>
<circle cx="186.4" cy="223.3" r="1.15"/>
<circle cx="178.9" cy="225.9" r="1.15"/>
<circle cx="181.1" cy="229.4" r="1.15"/>
<circle cx="185.6" cy="223.2" r="1.15"/>
<circle cx="194.6" cy="224.7" r="1.15"/>
<circle cx="190.9" cy="222.4" r="1.15"/>
<circle cx="187.1" cy="219.6" r="1.15"/>
<circle cx="185.7" cy="227.4" r="1.15"/>
<circle cx="193.4" cy="228.2" r="1.15"/>
<circle cx="189.6" cy="227.6" r="1.15"/>
<circle cx="193.6" cy="221.7" r="1.15"/>
<circle cx="193" cy="221.5" r="1.15"/>
<circle cx="196.6" cy="225.4" r="1.15"/>
<circle cx="196" cy="224.9" r="1.15"/>
<circle cx="192" cy="217.9" r="1.15"/>
<circle cx="183.6" cy="221.2" r="1.15"/>
<circle cx="190.9" cy="220.6" r="1.15"/>
<circle cx="194.4" cy="227.4" r="1.15"/>
<circle cx="192.8" cy="226.4" r="1.15"/>
<circle cx="186.1" cy="221.9" r="1.15"/>
<circle cx="186.9" cy="221.8" r="1.15"/>
<circle cx="191.9" cy="221" r="1.15"/>
<circle cx="197.8" cy="221.2" r="1.15"/>
<circle cx="194.3" cy="226.4" r="1.15"/>
<circle cx="185.3" cy="229.3" r="1.15"/>
<circle cx="177.3" cy="224.7" r="1.15"/>
<circle cx="194.4" cy="221.7" r="1.15"/>
<circle cx="198" cy="223.4" r="1.15"/>
<circle cx="189.6" cy="222.2" r="1.15"/>
<circle cx="188.8" cy="223.8" r="1.15"/>
<circle cx="191.1" cy="223" r="1.15"/>
<circle cx="195.5" cy="219.3" r="1.15"/>
<circle cx="198.2" cy="219.9" r="1.15"/>
<circle cx="181.2" cy="223.4" r="1.15"/>
<circle cx="193.9" cy="222.4" r="1.15"/>
<circle cx="179.2" cy="220.3" r="1.15"/>
<circle cx="177.7" cy="227.7" r="1.15"/>
<circle cx="182.7" cy="223.6" r="1.15"/>
<circle cx="186" cy="223.5" r="1.15"/>
<circle cx="186.1" cy="224.4" r="1.15"/>
<circle cx="182.5" cy="222.8" r="1.15"/>
<circle cx="181.6" cy="220.5" r="1.15"/>
<circle cx="188.5" cy="223.5" r="1.15"/>
<circle cx="185.4" cy="225.4" r="1.15"/>
<circle cx="181.3" cy="231.1" r="1.15"/>
<circle cx="195" cy="228.8" r="1.15"/>
<circle cx="191" cy="229" r="1.15"/>
<circle cx="181.6" cy="219" r="1.15"/>
<circle cx="198.6" cy="225" r="1.15"/>
<circle cx="195.2" cy="220.6" r="1.15"/>
<circle cx="195.2" cy="228.6" r="1.15"/>
<circle cx="189" cy="220.7" r="1.15"/>
<circle cx="179.3" cy="224.7" r="1.15"/>
<circle cx="196" cy="225.9" r="1.15"/>
<circle cx="182.6" cy="220.8" r="1.15"/>
<circle cx="186.2" cy="221.8" r="1.15"/>
<circle cx="180.7" cy="226.1" r="1.15"/>
<circle cx="182.9" cy="230.4" r="1.15"/>
<circle cx="182" cy="224.1" r="1.15"/>
<circle cx="186.3" cy="222.5" r="1.15"/>
<circle cx="191.1" cy="228.3" r="1.15"/>
<circle cx="197.8" cy="222" r="1.15"/>
<circle cx="196.1" cy="220.8" r="1.15"/>
<circle cx="197.2" cy="231" r="1.15"/>
<circle cx="194.4" cy="226.6" r="1.15"/>
<circle cx="191" cy="228.8" r="1.15"/>
<circle cx="176.7" cy="229.8" r="1.15"/>
<circle cx="191.5" cy="224.7" r="1.15"/>
<circle cx="179.7" cy="224" r="1.15"/>
<circle cx="181.8" cy="225.9" r="1.15"/>
<circle cx="179.9" cy="224.6" r="1.15"/>
<circle cx="197.2" cy="220.4" r="1.15"/>
<circle cx="196.9" cy="224.6" r="1.15"/>
<circle cx="190.4" cy="221.7" r="1.15"/>
<circle cx="197" cy="225.2" r="1.15"/>
<circle cx="194.5" cy="218.2" r="1.15"/>
<circle cx="192.3" cy="225.4" r="1.15"/>
<circle cx="188.6" cy="221.7" r="1.15"/>
<circle cx="196.7" cy="223.8" r="1.15"/>
<circle cx="240.4" cy="188" r="1.15"/>
<circle cx="257.4" cy="186.6" r="1.15"/>
<circle cx="255.5" cy="204.8" r="1.15"/>
<circle cx="243.9" cy="208.1" r="1.15"/>
<circle cx="236.4" cy="209.9" r="1.15"/>
<circle cx="249.5" cy="212.2" r="1.15"/>
<circle cx="245.1" cy="214.6" r="1.15"/>
<circle cx="253.7" cy="214.8" r="1.15"/>
<circle cx="235.5" cy="220.8" r="1.15"/>
<circle cx="245.1" cy="221.1" r="1.15"/>
<circle cx="249" cy="223.2" r="1.15"/>
<circle cx="241.3" cy="224.2" r="1.15"/>
<circle cx="317.3" cy="196.2" r="1.15"/>
<circle cx="295" cy="204.1" r="1.15"/>
<circle cx="297.1" cy="204.8" r="1.15"/>
<circle cx="301" cy="208.5" r="1.15"/>
<circle cx="314.1" cy="211.6" r="1.15"/>
<circle cx="301" cy="212" r="1.15"/>
<circle cx="298.9" cy="213.4" r="1.15"/>
<circle cx="302.7" cy="213.9" r="1.15"/>
<circle cx="295.9" cy="216" r="1.15"/>
<circle cx="301.5" cy="220.8" r="1.15"/>
<circle cx="303.4" cy="220.4" r="1.15"/>
<circle cx="316.4" cy="220" r="1.15"/>
<circle cx="358.7" cy="192.3" r="1.15"/>
<circle cx="354.7" cy="207.1" r="1.15"/>
<circle cx="360.3" cy="210.2" r="1.15"/>
<circle cx="356.1" cy="212" r="1.15"/>
<circle cx="360.3" cy="212" r="1.15"/>
<circle cx="363.75" cy="211.3" r="1.15"/>
<circle cx="367.9" cy="215.5" r="1.15"/>
<circle cx="372.6" cy="216.9" r="1.15"/>
<circle cx="362.8" cy="218" r="1.15"/>
<circle cx="370.5" cy="219" r="1.15"/>
<circle cx="367" cy="220.8" r="1.15"/>
<circle cx="430.7" cy="196.7" r="1.15"/>
<circle cx="415.8" cy="211.1" r="1.15"/>
<circle cx="425.8" cy="211.3" r="1.15"/>
<circle cx="421.8" cy="213.9" r="1.15"/>
<circle cx="423.5" cy="213" r="1.15"/>
<circle cx="427.2" cy="215.5" r="1.15"/>
<circle cx="415.3" cy="217.4" r="1.15"/>
<circle cx="434.4" cy="216.7" r="1.15"/>
<circle cx="424.4" cy="223.9" r="1.15"/>
<circle cx="494.2" cy="201" r="1.15"/>
<circle cx="476" cy="209.1" r="1.15"/>
<circle cx="473" cy="220" r="1.15"/>
<circle cx="495" cy="223.9" r="1.15"/>
<circle cx="474.1" cy="229.8" r="1.15"/>
</g>
<path class="ax" stroke-width="1" d="M93 146.45H519.5V256.65H93Z"/>
<path stroke="#383838" fill="none" stroke-width=".9" d="M90.3 156.9H93M90.3 173.8H93M90.3 190.7H93M90.3 207.6H93M90.3 224.5H93M90.3 241.4H93M128.65 256.65V259.85M187.9 256.65V259.85M247.15 256.65V259.85M306.4 256.65V259.85M365.6 256.65V259.85M424.85 256.65V259.85M484.1 256.65V259.85"/>
<text class="t" x="86.8" y="160.2" font-size="6.6" text-anchor="end">10<tspan font-size="4.2" dy="-2.1">4.5</tspan></text>
<text class="t" x="86.8" y="177.1" font-size="6.6" text-anchor="end">10<tspan font-size="4.2" dy="-2.1">4</tspan></text>
<text class="t" x="86.8" y="194" font-size="6.6" text-anchor="end">10<tspan font-size="4.2" dy="-2.1">3.5</tspan></text>
<text class="t" x="86.8" y="210.9" font-size="6.6" text-anchor="end">10<tspan font-size="4.2" dy="-2.1">3</tspan></text>
<text class="t" x="86.8" y="227.8" font-size="6.6" text-anchor="end">10<tspan font-size="4.2" dy="-2.1">2.5</tspan></text>
<text class="t" x="86.8" y="244.7" font-size="6.6" text-anchor="end">10<tspan font-size="4.2" dy="-2.1">2</tspan></text>
<text class="t" x="128.65" y="255" font-size="6.6" text-anchor="middle">277</text>
<text class="t" x="187.9" y="255" font-size="6.6" text-anchor="middle">147</text>
<text class="t" x="247.15" y="255" font-size="6.6" text-anchor="middle">12</text>
<text class="t" x="306.4" y="255" font-size="6.6" text-anchor="middle">12</text>
<text class="t" x="365.6" y="255" font-size="6.6" text-anchor="middle">11</text>
<text class="t" x="424.85" y="255" font-size="6.6" text-anchor="middle">10</text>
<text class="t" x="484.1" y="255" font-size="6.6" text-anchor="middle">5</text>
<text class="t" x="127.65" y="268" font-size="6.4" text-anchor="middle" textLength="47.3" lengthAdjust="spacingAndGlyphs">CO-US-540-5844</text>
<text class="t" x="127.65" y="276.3" font-size="6.4" text-anchor="middle" textLength="49.9" lengthAdjust="spacingAndGlyphs">Hospitalized adults</text>
<text class="t" x="127.65" y="284.6" font-size="6.4" text-anchor="middle" textLength="41" lengthAdjust="spacingAndGlyphs">on steady state</text>
<text class="t" x="187.1" y="268" font-size="6.4" text-anchor="middle" textLength="46.5" lengthAdjust="spacingAndGlyphs">GS-US-540-9012</text>
<text class="t" x="187.1" y="276.3" font-size="6.4" text-anchor="middle" textLength="41.7" lengthAdjust="spacingAndGlyphs">Nonhospitalized</text>
<text class="t" x="187.1" y="284.6" font-size="6.4" text-anchor="middle" textLength="58" lengthAdjust="spacingAndGlyphs">adults on steady state</text>
<text class="t" x="246.3" y="268" font-size="6.4" text-anchor="middle" textLength="46.6" lengthAdjust="spacingAndGlyphs">GS-US-540-5823</text>
<text class="t" x="246.3" y="276.3" font-size="6.4" text-anchor="middle" textLength="47.4" lengthAdjust="spacingAndGlyphs">Pediatric Cohort 1</text>
<text class="t" x="305.55" y="268" font-size="6.4" text-anchor="middle" textLength="46.6" lengthAdjust="spacingAndGlyphs">GS-US-540-5823</text>
<text class="t" x="305.55" y="276.3" font-size="6.4" text-anchor="middle" textLength="47.4" lengthAdjust="spacingAndGlyphs">Pediatric Cohort 2</text>
<text class="t" x="365" y="268" font-size="6.4" text-anchor="middle" textLength="46.6" lengthAdjust="spacingAndGlyphs">GS-US-540-5823</text>
<text class="t" x="365" y="276.3" font-size="6.4" text-anchor="middle" textLength="47.4" lengthAdjust="spacingAndGlyphs">Pediatric Cohort 3</text>
<text class="t" x="424.5" y="268" font-size="6.4" text-anchor="middle" textLength="46.6" lengthAdjust="spacingAndGlyphs">GS-US-540-5823</text>
<text class="t" x="424.5" y="276.3" font-size="6.4" text-anchor="middle" textLength="47.4" lengthAdjust="spacingAndGlyphs">Pediatric Cohort 4</text>
<text class="t" x="483.75" y="268" font-size="6.4" text-anchor="middle" textLength="46.6" lengthAdjust="spacingAndGlyphs">GS-US-540-5823</text>
<text class="t" x="483.75" y="276.3" font-size="6.4" text-anchor="middle" textLength="47.4" lengthAdjust="spacingAndGlyphs">Pediatric Cohort 8</text>
</g>
<g>
<text fill="#1c1c1c" x="-0.1" y="295.65" font-size="13.5">C</text>
<text class="t" font-weight="bold" font-size="9.9" transform="translate(13 381.1) rotate(-90)">AUC<tspan font-size="6.1" dx="0.5" dy="3.4">tau</tspan></text>
<text class="t" font-weight="bold" font-size="9.9" transform="translate(13 348.4) rotate(-90)" textLength="46.4" lengthAdjust="spacingAndGlyphs">(ng·h/mL)</text>
<text class="t" font-weight="bold" font-size="9.9" text-anchor="middle" transform="translate(25.2 341.6) rotate(-90)" textLength="55.6" lengthAdjust="spacingAndGlyphs">steady state</text>
<text class="t" x="6.6" y="397.8" font-size="8.4" textLength="58" lengthAdjust="spacingAndGlyphs">No. of subjects</text>
<rect class="bx" x="106.65" y="326.3" width="44" height="9"/>
<path class="md" d="M106.65 331.2H150.65"/>
<path class="wh" d="M128.65 335.3V346"/>
<rect class="bx" x="165.9" y="330.5" width="44" height="6.9"/>
<path class="md" d="M165.9 333.45H209.9"/>
<path class="wh" d="M187.9 321.5V330.5M187.9 337.4V346.2"/>
<rect class="bx" x="225.15" y="328.5" width="44" height="6.8"/>
<path class="md" d="M225.15 331.55H269.15"/>
<path class="wh" d="M247.15 324.8V328.5M247.15 335.3V342.5"/>
<rect class="bx" x="284.4" y="324.3" width="44" height="10.7"/>
<path class="md" d="M284.4 333.9H328.4"/>
<path class="wh" d="M306.4 312V324.3M306.4 335V343.5"/>
<rect class="bx" x="343.6" y="330.3" width="44" height="7"/>
<path class="md" d="M343.6 336.5H387.6"/>
<path class="wh" d="M365.6 337.3V341.1"/>
<rect class="bx" x="402.85" y="329.45" width="44" height="3.8"/>
<path class="md" d="M402.85 332.05H446.85"/>
<path class="wh" d="M424.85 326V329.45M424.85 333.25V339"/>
<rect class="bx" x="462.1" y="334.3" width="44" height="5.7"/>
<path class="md" d="M462.1 335H506.1"/>
<path class="wh" d="M484.1 340V345.3"/>
<g class="p">
<circle cx="139.3" cy="302.3" r="1.15"/>
<circle cx="121.2" cy="303.7" r="1.15"/>
<circle cx="123.5" cy="303.7" r="1.15"/>
<circle cx="135.8" cy="304.7" r="1.15"/>
<circle cx="119.1" cy="306.8" r="1.15"/>
<circle cx="125.8" cy="307.1" r="1.15"/>
<circle cx="136.1" cy="307.9" r="1.15"/>
<circle cx="123.3" cy="308.9" r="1.15"/>
<circle cx="117.7" cy="310.7" r="1.15"/>
<circle cx="126.75" cy="311" r="1.15"/>
<circle cx="136.5" cy="310.3" r="1.15"/>
<circle cx="139.3" cy="311.2" r="1.15"/>
<circle cx="119.1" cy="312.4" r="1.15"/>
<circle cx="133" cy="312.4" r="1.15"/>
<circle cx="119.8" cy="314.5" r="1.15"/>
<circle cx="132.1" cy="313.8" r="1.15"/>
<circle cx="117.7" cy="318" r="1.15"/>
<circle cx="120.5" cy="316.6" r="1.15"/>
<circle cx="126.75" cy="315.9" r="1.15"/>
<circle cx="140" cy="317.7" r="1.15"/>
<circle cx="124" cy="320" r="1.15"/>
<circle cx="136.5" cy="320" r="1.15"/>
<circle cx="117" cy="339.6" r="1.15"/>
<circle cx="124" cy="343.8" r="1.15"/>
<circle cx="138.6" cy="343.8" r="1.15"/>
<circle cx="125.4" cy="347.3" r="1.15"/>
<circle cx="133.7" cy="342.4" r="1.15"/>
<circle cx="140" cy="338.9" r="1.15"/>
<circle cx="129.9" cy="328.4" r="1.15"/>
<circle cx="120.4" cy="332.7" r="1.15"/>
<circle cx="128.5" cy="336.1" r="1.15"/>
<circle cx="120.5" cy="337.5" r="1.15"/>
<circle cx="128.5" cy="334.7" r="1.15"/>
<circle cx="137" cy="327.6" r="1.15"/>
<circle cx="117.3" cy="333.1" r="1.15"/>
<circle cx="130.1" cy="335.6" r="1.15"/>
<circle cx="132.5" cy="328.9" r="1.15"/>
<circle cx="126.8" cy="335.2" r="1.15"/>
<circle cx="139.2" cy="329.5" r="1.15"/>
<circle cx="131.8" cy="338.4" r="1.15"/>
<circle cx="117.8" cy="335.8" r="1.15"/>
<circle cx="138.6" cy="328" r="1.15"/>
<circle cx="124.8" cy="328.9" r="1.15"/>
<circle cx="128.3" cy="338.1" r="1.15"/>
<circle cx="137.8" cy="332.4" r="1.15"/>
<circle cx="131.5" cy="339.7" r="1.15"/>
<circle cx="124.9" cy="334.4" r="1.15"/>
<circle cx="128.1" cy="335.7" r="1.15"/>
<circle cx="129.2" cy="329.9" r="1.15"/>
<circle cx="127.2" cy="333.4" r="1.15"/>
<circle cx="126.9" cy="330.1" r="1.15"/>
<circle cx="123.9" cy="325.4" r="1.15"/>
<circle cx="136.2" cy="330.3" r="1.15"/>
<circle cx="123.4" cy="328.8" r="1.15"/>
<circle cx="128.8" cy="335.9" r="1.15"/>
<circle cx="135.4" cy="339.2" r="1.15"/>
<circle cx="124.8" cy="332" r="1.15"/>
<circle cx="130.6" cy="331.5" r="1.15"/>
<circle cx="131.8" cy="336.3" r="1.15"/>
<circle cx="133.8" cy="333.3" r="1.15"/>
<circle cx="137.5" cy="331.8" r="1.15"/>
<circle cx="124.1" cy="331.7" r="1.15"/>
<circle cx="117.3" cy="332.6" r="1.15"/>
<circle cx="131.1" cy="336.6" r="1.15"/>
<circle cx="132.3" cy="342" r="1.15"/>
<circle cx="131.2" cy="335.3" r="1.15"/>
<circle cx="133.2" cy="328.5" r="1.15"/>
<circle cx="130.9" cy="329" r="1.15"/>
<circle cx="132.5" cy="331.8" r="1.15"/>
<circle cx="127.7" cy="330.3" r="1.15"/>
<circle cx="121.3" cy="333.2" r="1.15"/>
<circle cx="118" cy="331" r="1.15"/>
<circle cx="132.2" cy="334.5" r="1.15"/>
<circle cx="135.2" cy="327.6" r="1.15"/>
<circle cx="130.1" cy="338.9" r="1.15"/>
<circle cx="126.9" cy="332.8" r="1.15"/>
<circle cx="124.5" cy="336.6" r="1.15"/>
<circle cx="138.6" cy="327.4" r="1.15"/>
<circle cx="118.4" cy="335.6" r="1.15"/>
<circle cx="119.9" cy="331.9" r="1.15"/>
<circle cx="135.8" cy="332.5" r="1.15"/>
<circle cx="127.4" cy="328.6" r="1.15"/>
<circle cx="130.8" cy="337.2" r="1.15"/>
<circle cx="138.7" cy="333.4" r="1.15"/>
<circle cx="126.6" cy="337.8" r="1.15"/>
<circle cx="119.5" cy="332.4" r="1.15"/>
<circle cx="120.6" cy="331.2" r="1.15"/>
<circle cx="117.5" cy="330.7" r="1.15"/>
<circle cx="119.9" cy="339.5" r="1.15"/>
<circle cx="139.4" cy="333.2" r="1.15"/>
<circle cx="120.1" cy="340.4" r="1.15"/>
<circle cx="117.6" cy="337.6" r="1.15"/>
<circle cx="134" cy="332.4" r="1.15"/>
<circle cx="121.5" cy="329.9" r="1.15"/>
<circle cx="133.6" cy="340.1" r="1.15"/>
<circle cx="136.8" cy="335.3" r="1.15"/>
<circle cx="131.6" cy="332.8" r="1.15"/>
<circle cx="133.5" cy="331.2" r="1.15"/>
<circle cx="123" cy="335.4" r="1.15"/>
<circle cx="117.4" cy="339.7" r="1.15"/>
<circle cx="117.5" cy="331.5" r="1.15"/>
<circle cx="119" cy="328.4" r="1.15"/>
<circle cx="124.3" cy="326.6" r="1.15"/>
<circle cx="137" cy="332.7" r="1.15"/>
<circle cx="128.3" cy="330.4" r="1.15"/>
<circle cx="130.4" cy="336.8" r="1.15"/>
<circle cx="127.2" cy="334.5" r="1.15"/>
<circle cx="135.5" cy="331.9" r="1.15"/>
<circle cx="125.5" cy="330.8" r="1.15"/>
<circle cx="126.8" cy="329.3" r="1.15"/>
<circle cx="126" cy="328.2" r="1.15"/>
<circle cx="135.2" cy="335.3" r="1.15"/>
<circle cx="118.5" cy="329.7" r="1.15"/>
<circle cx="139.6" cy="331.5" r="1.15"/>
<circle cx="124.8" cy="330.7" r="1.15"/>
<circle cx="131.1" cy="325.3" r="1.15"/>
<circle cx="131" cy="341" r="1.15"/>
<circle cx="124.2" cy="331.9" r="1.15"/>
<circle cx="125.8" cy="336.9" r="1.15"/>
<circle cx="137.8" cy="330.7" r="1.15"/>
<circle cx="135.7" cy="327.6" r="1.15"/>
<circle cx="123.2" cy="332.9" r="1.15"/>
<circle cx="126.9" cy="333.2" r="1.15"/>
<circle cx="137.6" cy="326.2" r="1.15"/>
<circle cx="118.1" cy="328.9" r="1.15"/>
<circle cx="137.1" cy="336.9" r="1.15"/>
<circle cx="130.3" cy="326.2" r="1.15"/>
<circle cx="135.7" cy="331.7" r="1.15"/>
<circle cx="132.9" cy="341.3" r="1.15"/>
<circle cx="119.1" cy="336.4" r="1.15"/>
<circle cx="129.9" cy="331" r="1.15"/>
<circle cx="134.4" cy="333.8" r="1.15"/>
<circle cx="138.6" cy="330.3" r="1.15"/>
<circle cx="132.7" cy="333.6" r="1.15"/>
<circle cx="127.9" cy="338.8" r="1.15"/>
<circle cx="134.4" cy="333.9" r="1.15"/>
<circle cx="135.4" cy="336.2" r="1.15"/>
<circle cx="135.7" cy="331.2" r="1.15"/>
<circle cx="134.9" cy="333.5" r="1.15"/>
<circle cx="137.8" cy="333.6" r="1.15"/>
<circle cx="137.5" cy="338.6" r="1.15"/>
<circle cx="130.7" cy="328.2" r="1.15"/>
<circle cx="121.5" cy="332.3" r="1.15"/>
<circle cx="133.3" cy="334" r="1.15"/>
<circle cx="125.5" cy="335.5" r="1.15"/>
<circle cx="129" cy="329" r="1.15"/>
<circle cx="120.6" cy="331.3" r="1.15"/>
<circle cx="125.8" cy="337.1" r="1.15"/>
<circle cx="135.3" cy="337.8" r="1.15"/>
<circle cx="120.7" cy="336.8" r="1.15"/>
<circle cx="129.1" cy="329.8" r="1.15"/>
<circle cx="117.6" cy="330.7" r="1.15"/>
<circle cx="137.1" cy="335.7" r="1.15"/>
<circle cx="123.2" cy="327.5" r="1.15"/>
<circle cx="135.1" cy="333.5" r="1.15"/>
<circle cx="134.8" cy="337.7" r="1.15"/>
<circle cx="123" cy="337.6" r="1.15"/>
<circle cx="121.3" cy="335.8" r="1.15"/>
<circle cx="119.1" cy="333.7" r="1.15"/>
<circle cx="137.2" cy="338.2" r="1.15"/>
<circle cx="127.7" cy="334.7" r="1.15"/>
<circle cx="118.6" cy="341.9" r="1.15"/>
<circle cx="130.9" cy="329.9" r="1.15"/>
<circle cx="139.2" cy="331.3" r="1.15"/>
<circle cx="123.1" cy="334.3" r="1.15"/>
<circle cx="139.1" cy="327.3" r="1.15"/>
<circle cx="132.6" cy="330.6" r="1.15"/>
<circle cx="120.8" cy="329.3" r="1.15"/>
<circle cx="139.4" cy="335.9" r="1.15"/>
<circle cx="118" cy="336" r="1.15"/>
<circle cx="123" cy="332.8" r="1.15"/>
<circle cx="138" cy="327.4" r="1.15"/>
<circle cx="136.4" cy="340.4" r="1.15"/>
<circle cx="133.5" cy="340.2" r="1.15"/>
<circle cx="132" cy="335.2" r="1.15"/>
<circle cx="120.5" cy="334.5" r="1.15"/>
<circle cx="134.5" cy="332.9" r="1.15"/>
<circle cx="124" cy="339" r="1.15"/>
<circle cx="130.8" cy="330.6" r="1.15"/>
<circle cx="124.6" cy="333.1" r="1.15"/>
<circle cx="123.1" cy="331" r="1.15"/>
<circle cx="121" cy="336.5" r="1.15"/>
<circle cx="122.6" cy="336.5" r="1.15"/>
<circle cx="117.4" cy="337" r="1.15"/>
<circle cx="133.6" cy="338.1" r="1.15"/>
<circle cx="138.5" cy="333.4" r="1.15"/>
<circle cx="122.2" cy="334.1" r="1.15"/>
<circle cx="137.6" cy="340.9" r="1.15"/>
<circle cx="120.4" cy="329.5" r="1.15"/>
<circle cx="138.5" cy="331.2" r="1.15"/>
<circle cx="136.5" cy="333.6" r="1.15"/>
<circle cx="125" cy="329.7" r="1.15"/>
<circle cx="136.1" cy="329.6" r="1.15"/>
<circle cx="120.4" cy="327" r="1.15"/>
<circle cx="122.2" cy="333.9" r="1.15"/>
<circle cx="129.9" cy="339.4" r="1.15"/>
<circle cx="120.5" cy="335.4" r="1.15"/>
<circle cx="126.6" cy="335.3" r="1.15"/>
<circle cx="120.7" cy="330.5" r="1.15"/>
<circle cx="124.8" cy="331.9" r="1.15"/>
<circle cx="121" cy="341.2" r="1.15"/>
<circle cx="137.9" cy="329.2" r="1.15"/>
<circle cx="119.8" cy="333.2" r="1.15"/>
<circle cx="137.7" cy="334.5" r="1.15"/>
<circle cx="132.5" cy="332.8" r="1.15"/>
<circle cx="123.7" cy="334.2" r="1.15"/>
<circle cx="123.1" cy="337.8" r="1.15"/>
<circle cx="139.9" cy="334.2" r="1.15"/>
<circle cx="140.1" cy="336.9" r="1.15"/>
<circle cx="123.8" cy="334.7" r="1.15"/>
<circle cx="137.8" cy="332.1" r="1.15"/>
<circle cx="123.9" cy="339.5" r="1.15"/>
<circle cx="139.7" cy="335.4" r="1.15"/>
<circle cx="125" cy="340.8" r="1.15"/>
<circle cx="120.4" cy="333.8" r="1.15"/>
<circle cx="129.3" cy="341.1" r="1.15"/>
<circle cx="121.4" cy="333.1" r="1.15"/>
<circle cx="122.2" cy="336.8" r="1.15"/>
<circle cx="121.3" cy="330.9" r="1.15"/>
<circle cx="134.9" cy="332" r="1.15"/>
<circle cx="119" cy="332.3" r="1.15"/>
<circle cx="119.2" cy="330.2" r="1.15"/>
<circle cx="123.4" cy="329.1" r="1.15"/>
<circle cx="121.9" cy="329.8" r="1.15"/>
<circle cx="135.8" cy="327.9" r="1.15"/>
<circle cx="130.6" cy="328.6" r="1.15"/>
<circle cx="134" cy="333.5" r="1.15"/>
<circle cx="126.5" cy="334.5" r="1.15"/>
<circle cx="128.9" cy="320.2" r="1.15"/>
<circle cx="137.7" cy="323.9" r="1.15"/>
<circle cx="136" cy="326" r="1.15"/>
<circle cx="137.6" cy="322.6" r="1.15"/>
<circle cx="120.7" cy="321.8" r="1.15"/>
<circle cx="128.9" cy="323" r="1.15"/>
<circle cx="121.5" cy="320.9" r="1.15"/>
<circle cx="131.6" cy="323.5" r="1.15"/>
<circle cx="125.3" cy="326.1" r="1.15"/>
<circle cx="131.8" cy="319.3" r="1.15"/>
<circle cx="126.6" cy="324.4" r="1.15"/>
<circle cx="124.2" cy="323.9" r="1.15"/>
<circle cx="117.2" cy="321.9" r="1.15"/>
<circle cx="136.5" cy="323.4" r="1.15"/>
<circle cx="132.5" cy="321.1" r="1.15"/>
<circle cx="128.6" cy="323.3" r="1.15"/>
<circle cx="123.3" cy="323.7" r="1.15"/>
<circle cx="129.4" cy="326.2" r="1.15"/>
<circle cx="130.4" cy="322.5" r="1.15"/>
<circle cx="119.9" cy="320.7" r="1.15"/>
<circle cx="134.6" cy="320.2" r="1.15"/>
<circle cx="119.5" cy="320.8" r="1.15"/>
<circle cx="129.2" cy="324.5" r="1.15"/>
<circle cx="131.2" cy="324.4" r="1.15"/>
<circle cx="118.6" cy="318.6" r="1.15"/>
<circle cx="134.9" cy="322" r="1.15"/>
<circle cx="133.6" cy="322.2" r="1.15"/>
<circle cx="121" cy="321.6" r="1.15"/>
<circle cx="119.4" cy="325.1" r="1.15"/>
<circle cx="130.5" cy="322.1" r="1.15"/>
<circle cx="127.5" cy="322.4" r="1.15"/>
<circle cx="118.4" cy="325" r="1.15"/>
<circle cx="130.6" cy="325.6" r="1.15"/>
<circle cx="127.3" cy="323.6" r="1.15"/>
<circle cx="122.9" cy="319.3" r="1.15"/>
<circle cx="138.6" cy="324.7" r="1.15"/>
<circle cx="124.4" cy="325" r="1.15"/>
<circle cx="135.9" cy="321.8" r="1.15"/>
<circle cx="131" cy="325.6" r="1.15"/>
<circle cx="128.5" cy="325.5" r="1.15"/>
<circle cx="122.7" cy="322.4" r="1.15"/>
<circle cx="133.7" cy="321.3" r="1.15"/>
<circle cx="124.3" cy="324.9" r="1.15"/>
<circle cx="128.3" cy="324.4" r="1.15"/>
<circle cx="122.7" cy="320.9" r="1.15"/>
<circle cx="125.4" cy="321" r="1.15"/>
<circle cx="139.5" cy="321.8" r="1.15"/>
<circle cx="130.1" cy="320.3" r="1.15"/>
<circle cx="129.4" cy="322.4" r="1.15"/>
<circle cx="126.4" cy="319.7" r="1.15"/>
<circle cx="120" cy="324.6" r="1.15"/>
<circle cx="125.2" cy="321.4" r="1.15"/>
<circle cx="121.5" cy="321.7" r="1.15"/>
<circle cx="122.6" cy="319.2" r="1.15"/>
<circle cx="132.4" cy="322.1" r="1.15"/>
<circle cx="192.3" cy="297" r="1.15"/>
<circle cx="193" cy="315.4" r="1.15"/>
<circle cx="194.8" cy="316.1" r="1.15"/>
<circle cx="190.6" cy="317.3" r="1.15"/>
<circle cx="181.1" cy="320" r="1.15"/>
<circle cx="188.8" cy="320.75" r="1.15"/>
<circle cx="176.7" cy="323.1" r="1.15"/>
<circle cx="189.2" cy="323.5" r="1.15"/>
<circle cx="195.5" cy="325.6" r="1.15"/>
<circle cx="178.1" cy="346.9" r="1.15"/>
<circle cx="197.9" cy="349" r="1.15"/>
<circle cx="187.2" cy="343.8" r="1.15"/>
<circle cx="176.25" cy="353.2" r="1.15"/>
<circle cx="179" cy="356" r="1.15"/>
<circle cx="195" cy="334.1" r="1.15"/>
<circle cx="184.1" cy="332.9" r="1.15"/>
<circle cx="187.7" cy="339.2" r="1.15"/>
<circle cx="176.8" cy="327" r="1.15"/>
<circle cx="196.5" cy="338.6" r="1.15"/>
<circle cx="182.5" cy="331.7" r="1.15"/>
<circle cx="184.8" cy="337.6" r="1.15"/>
<circle cx="180.2" cy="342" r="1.15"/>
<circle cx="176.5" cy="330.3" r="1.15"/>
<circle cx="188.4" cy="338.7" r="1.15"/>
<circle cx="179.2" cy="329.4" r="1.15"/>
<circle cx="192.8" cy="336.2" r="1.15"/>
<circle cx="183.8" cy="338" r="1.15"/>
<circle cx="192.8" cy="326.3" r="1.15"/>
<circle cx="177.8" cy="329" r="1.15"/>
<circle cx="196.5" cy="339.4" r="1.15"/>
<circle cx="188.2" cy="339.3" r="1.15"/>
<circle cx="188.6" cy="332.9" r="1.15"/>
<circle cx="198.7" cy="333.5" r="1.15"/>
<circle cx="181.5" cy="334.2" r="1.15"/>
<circle cx="182.2" cy="335.2" r="1.15"/>
<circle cx="195.2" cy="336.3" r="1.15"/>
<circle cx="192.5" cy="336.3" r="1.15"/>
<circle cx="180.9" cy="334.8" r="1.15"/>
<circle cx="189.7" cy="340.3" r="1.15"/>
<circle cx="188.4" cy="335.1" r="1.15"/>
<circle cx="196.4" cy="333.8" r="1.15"/>
<circle cx="192.9" cy="332.4" r="1.15"/>
<circle cx="187.8" cy="336.6" r="1.15"/>
<circle cx="187.9" cy="335" r="1.15"/>
<circle cx="185.7" cy="334" r="1.15"/>
<circle cx="179.5" cy="336.6" r="1.15"/>
<circle cx="179.8" cy="327.1" r="1.15"/>
<circle cx="189.6" cy="329.6" r="1.15"/>
<circle cx="195.4" cy="334.3" r="1.15"/>
<circle cx="198" cy="331.8" r="1.15"/>
<circle cx="195.7" cy="330.9" r="1.15"/>
<circle cx="188.5" cy="337.4" r="1.15"/>
<circle cx="194.3" cy="326.1" r="1.15"/>
<circle cx="184.2" cy="340.8" r="1.15"/>
<circle cx="186.4" cy="334.6" r="1.15"/>
<circle cx="199" cy="338.4" r="1.15"/>
<circle cx="195.1" cy="337.7" r="1.15"/>
<circle cx="195.9" cy="325.2" r="1.15"/>
<circle cx="198.4" cy="339.4" r="1.15"/>
<circle cx="197.9" cy="336.2" r="1.15"/>
<circle cx="191" cy="334.4" r="1.15"/>
<circle cx="184.8" cy="339" r="1.15"/>
<circle cx="186.4" cy="332.8" r="1.15"/>
<circle cx="188" cy="334.1" r="1.15"/>
<circle cx="198.7" cy="336.8" r="1.15"/>
<circle cx="194.3" cy="334.7" r="1.15"/>
<circle cx="195" cy="340.1" r="1.15"/>
<circle cx="196.7" cy="332" r="1.15"/>
<circle cx="191.2" cy="335.3" r="1.15"/>
<circle cx="182.5" cy="333.6" r="1.15"/>
<circle cx="188.9" cy="332.9" r="1.15"/>
<circle cx="197.7" cy="331.2" r="1.15"/>
<circle cx="188.4" cy="332" r="1.15"/>
<circle cx="186.4" cy="332.1" r="1.15"/>
<circle cx="183.4" cy="337.9" r="1.15"/>
<circle cx="191.3" cy="333.3" r="1.15"/>
<circle cx="198.4" cy="338.7" r="1.15"/>
<circle cx="188.2" cy="338.5" r="1.15"/>
<circle cx="188.7" cy="333.8" r="1.15"/>
<circle cx="179.8" cy="339.3" r="1.15"/>
<circle cx="183.2" cy="336.1" r="1.15"/>
<circle cx="185.8" cy="336" r="1.15"/>
<circle cx="178.4" cy="333.6" r="1.15"/>
<circle cx="189" cy="337.6" r="1.15"/>
<circle cx="189.5" cy="337.6" r="1.15"/>
<circle cx="191.4" cy="329.3" r="1.15"/>
<circle cx="187" cy="336.5" r="1.15"/>
<circle cx="189" cy="341" r="1.15"/>
<circle cx="183.5" cy="330.6" r="1.15"/>
<circle cx="182" cy="331.2" r="1.15"/>
<circle cx="185.2" cy="335.3" r="1.15"/>
<circle cx="189.9" cy="339.6" r="1.15"/>
<circle cx="196.2" cy="338.5" r="1.15"/>
<circle cx="181.9" cy="334.7" r="1.15"/>
<circle cx="183" cy="329.6" r="1.15"/>
<circle cx="199.1" cy="332.6" r="1.15"/>
<circle cx="180" cy="332.3" r="1.15"/>
<circle cx="177.9" cy="341.7" r="1.15"/>
<circle cx="177.8" cy="337.7" r="1.15"/>
<circle cx="185.3" cy="331" r="1.15"/>
<circle cx="178.9" cy="327.7" r="1.15"/>
<circle cx="181.6" cy="337" r="1.15"/>
<circle cx="180" cy="341.4" r="1.15"/>
<circle cx="184.2" cy="332.6" r="1.15"/>
<circle cx="190.6" cy="330.4" r="1.15"/>
<circle cx="195.9" cy="339.7" r="1.15"/>
<circle cx="193.4" cy="336.7" r="1.15"/>
<circle cx="193.5" cy="329.6" r="1.15"/>
<circle cx="194.5" cy="334.7" r="1.15"/>
<circle cx="192.7" cy="329.4" r="1.15"/>
<circle cx="196.4" cy="336.4" r="1.15"/>
<circle cx="176.5" cy="333.2" r="1.15"/>
<circle cx="187.9" cy="335" r="1.15"/>
<circle cx="198.5" cy="328.6" r="1.15"/>
<circle cx="194.4" cy="330.3" r="1.15"/>
<circle cx="196.5" cy="332.4" r="1.15"/>
<circle cx="186.8" cy="331" r="1.15"/>
<circle cx="186.9" cy="331.7" r="1.15"/>
<circle cx="185.4" cy="333.8" r="1.15"/>
<circle cx="189.2" cy="330.8" r="1.15"/>
<circle cx="194.5" cy="331.5" r="1.15"/>
<circle cx="195.9" cy="337" r="1.15"/>
<circle cx="180.6" cy="329.6" r="1.15"/>
<circle cx="183.4" cy="334.4" r="1.15"/>
<circle cx="189.8" cy="337.9" r="1.15"/>
<circle cx="178.4" cy="339" r="1.15"/>
<circle cx="195.8" cy="337.8" r="1.15"/>
<circle cx="195.7" cy="332.5" r="1.15"/>
<circle cx="186.2" cy="337.3" r="1.15"/>
<circle cx="197.3" cy="333.6" r="1.15"/>
<circle cx="189.4" cy="335.8" r="1.15"/>
<circle cx="187.8" cy="334.5" r="1.15"/>
<circle cx="188.8" cy="341.1" r="1.15"/>
<circle cx="199.4" cy="330.8" r="1.15"/>
<circle cx="192.2" cy="329.1" r="1.15"/>
<circle cx="185.4" cy="333.8" r="1.15"/>
<circle cx="184.5" cy="330.7" r="1.15"/>
<circle cx="198.2" cy="339" r="1.15"/>
<circle cx="178.7" cy="332" r="1.15"/>
<circle cx="185" cy="329.6" r="1.15"/>
<circle cx="189.6" cy="329.8" r="1.15"/>
<circle cx="196.6" cy="337.7" r="1.15"/>
<circle cx="186.5" cy="339.4" r="1.15"/>
<circle cx="190.8" cy="333.3" r="1.15"/>
<circle cx="188.6" cy="338.4" r="1.15"/>
<circle cx="195.2" cy="334.3" r="1.15"/>
<circle cx="198.9" cy="336.2" r="1.15"/>
<circle cx="195.4" cy="337.8" r="1.15"/>
<circle cx="256" cy="294.7" r="1.15"/>
<circle cx="254.7" cy="307.8" r="1.15"/>
<circle cx="243" cy="324.8" r="1.15"/>
<circle cx="241.1" cy="329.7" r="1.15"/>
<circle cx="243.9" cy="329.7" r="1.15"/>
<circle cx="242.25" cy="331.3" r="1.15"/>
<circle cx="248.1" cy="331.3" r="1.15"/>
<circle cx="251.1" cy="332.7" r="1.15"/>
<circle cx="252" cy="334.8" r="1.15"/>
<circle cx="243.9" cy="336.2" r="1.15"/>
<circle cx="240.2" cy="337.2" r="1.15"/>
<circle cx="239.5" cy="342.9" r="1.15"/>
<circle cx="318" cy="312" r="1.15"/>
<circle cx="305" cy="322.9" r="1.15"/>
<circle cx="313.6" cy="322" r="1.15"/>
<circle cx="314.8" cy="324.3" r="1.15"/>
<circle cx="303.8" cy="331.6" r="1.15"/>
<circle cx="305" cy="333" r="1.15"/>
<circle cx="297.1" cy="334.5" r="1.15"/>
<circle cx="310.3" cy="334.5" r="1.15"/>
<circle cx="298.7" cy="336.9" r="1.15"/>
<circle cx="303.4" cy="338.6" r="1.15"/>
<circle cx="299.2" cy="343.9" r="1.15"/>
<circle cx="362.1" cy="314.8" r="1.15"/>
<circle cx="364.7" cy="329.2" r="1.15"/>
<circle cx="371.9" cy="329" r="1.15"/>
<circle cx="372.1" cy="330.6" r="1.15"/>
<circle cx="354" cy="333.1" r="1.15"/>
<circle cx="356.5" cy="336.2" r="1.15"/>
<circle cx="362.4" cy="337.6" r="1.15"/>
<circle cx="373.1" cy="337.6" r="1.15"/>
<circle cx="358.6" cy="341.5" r="1.15"/>
<circle cx="360.3" cy="340.8" r="1.15"/>
<circle cx="420.65" cy="322" r="1.15"/>
<circle cx="432.25" cy="326" r="1.15"/>
<circle cx="418.8" cy="328.5" r="1.15"/>
<circle cx="424.4" cy="332" r="1.15"/>
<circle cx="428.6" cy="332.7" r="1.15"/>
<circle cx="432.5" cy="331.75" r="1.15"/>
<circle cx="434.35" cy="333.7" r="1.15"/>
<circle cx="420" cy="335.8" r="1.15"/>
<circle cx="415.1" cy="339.4" r="1.15"/>
<circle cx="495.3" cy="305.5" r="1.15"/>
<circle cx="473.25" cy="334.1" r="1.15"/>
<circle cx="473.25" cy="340" r="1.15"/>
<circle cx="476.5" cy="345.6" r="1.15"/>
</g>
<path class="ax" stroke-width="1" d="M93 289.75H519.5V399.45H93Z"/>
<path stroke="#383838" fill="none" stroke-width=".9" d="M90.3 292.9H93M90.3 311H93M90.3 329.1H93M90.3 347.2H93M90.3 365.3H93M90.3 383.4H93M128.65 399.45V402.65M187.9 399.45V402.65M247.15 399.45V402.65M306.4 399.45V402.65M365.6 399.45V402.65M424.85 399.45V402.65M484.1 399.45V402.65"/>
<text class="t" x="86.8" y="296.2" font-size="6.6" text-anchor="end">10<tspan font-size="4.2" dy="-2.1">4.5</tspan></text>
<text class="t" x="86.8" y="314.3" font-size="6.6" text-anchor="end">10<tspan font-size="4.2" dy="-2.1">4</tspan></text>
<text class="t" x="86.8" y="332.4" font-size="6.6" text-anchor="end">10<tspan font-size="4.2" dy="-2.1">3.5</tspan></text>
<text class="t" x="86.8" y="350.5" font-size="6.6" text-anchor="end">10<tspan font-size="4.2" dy="-2.1">3</tspan></text>
<text class="t" x="86.8" y="368.6" font-size="6.6" text-anchor="end">10<tspan font-size="4.2" dy="-2.1">2.5</tspan></text>
<text class="t" x="86.8" y="386.7" font-size="6.6" text-anchor="end">10<tspan font-size="4.2" dy="-2.1">2</tspan></text>
<text class="t" x="128.65" y="397.6" font-size="6.6" text-anchor="middle">277</text>
<text class="t" x="187.9" y="397.6" font-size="6.6" text-anchor="middle">147</text>
<text class="t" x="247.15" y="397.6" font-size="6.6" text-anchor="middle">12</text>
<text class="t" x="306.4" y="397.6" font-size="6.6" text-anchor="middle">12</text>
<text class="t" x="365.6" y="397.6" font-size="6.6" text-anchor="middle">11</text>
<text class="t" x="424.85" y="397.6" font-size="6.6" text-anchor="middle">10</text>
<text class="t" x="484.1" y="397.6" font-size="6.6" text-anchor="middle">5</text>
<text class="t" x="127.65" y="410.7" font-size="6.4" text-anchor="middle" textLength="47.3" lengthAdjust="spacingAndGlyphs">CO-US-540-5844</text>
<text class="t" x="127.65" y="419" font-size="6.4" text-anchor="middle" textLength="49.9" lengthAdjust="spacingAndGlyphs">Hospitalized adults</text>
<text class="t" x="127.65" y="427.3" font-size="6.4" text-anchor="middle" textLength="41" lengthAdjust="spacingAndGlyphs">on steady state</text>
<text class="t" x="187.1" y="410.7" font-size="6.4" text-anchor="middle" textLength="46.5" lengthAdjust="spacingAndGlyphs">GS-US-540-9012</text>
<text class="t" x="187.1" y="419" font-size="6.4" text-anchor="middle" textLength="41.7" lengthAdjust="spacingAndGlyphs">Nonhospitalized</text>
<text class="t" x="187.1" y="427.3" font-size="6.4" text-anchor="middle" textLength="58" lengthAdjust="spacingAndGlyphs">adults on steady state</text>
<text class="t" x="246.3" y="410.7" font-size="6.4" text-anchor="middle" textLength="46.6" lengthAdjust="spacingAndGlyphs">GS-US-540-5823</text>
<text class="t" x="246.3" y="419" font-size="6.4" text-anchor="middle" textLength="47.4" lengthAdjust="spacingAndGlyphs">Pediatric Cohort 1</text>
<text class="t" x="305.55" y="410.7" font-size="6.4" text-anchor="middle" textLength="46.6" lengthAdjust="spacingAndGlyphs">GS-US-540-5823</text>
<text class="t" x="305.55" y="419" font-size="6.4" text-anchor="middle" textLength="47.4" lengthAdjust="spacingAndGlyphs">Pediatric Cohort 2</text>
<text class="t" x="365" y="410.7" font-size="6.4" text-anchor="middle" textLength="46.6" lengthAdjust="spacingAndGlyphs">GS-US-540-5823</text>
<text class="t" x="365" y="419" font-size="6.4" text-anchor="middle" textLength="47.4" lengthAdjust="spacingAndGlyphs">Pediatric Cohort 3</text>
<text class="t" x="424.5" y="410.7" font-size="6.4" text-anchor="middle" textLength="46.6" lengthAdjust="spacingAndGlyphs">GS-US-540-5823</text>
<text class="t" x="424.5" y="419" font-size="6.4" text-anchor="middle" textLength="47.4" lengthAdjust="spacingAndGlyphs">Pediatric Cohort 4</text>
<text class="t" x="483.75" y="410.7" font-size="6.4" text-anchor="middle" textLength="46.6" lengthAdjust="spacingAndGlyphs">GS-US-540-5823</text>
<text class="t" x="483.75" y="419" font-size="6.4" text-anchor="middle" textLength="47.4" lengthAdjust="spacingAndGlyphs">Pediatric Cohort 8</text>
</g>
</svg></body></html>
